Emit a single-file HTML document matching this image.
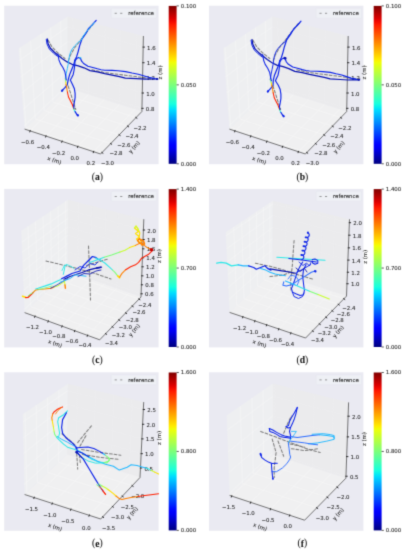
<!DOCTYPE html>
<html><head><meta charset="utf-8"><style>
html,body{margin:0;padding:0;background:#fff;}
svg{display:block;}
text{font-family:'DejaVu Sans','Liberation Sans',sans-serif;stroke:#222;stroke-width:0.07px;}
</style></head><body><div id="w">
<svg width="407" height="550" viewBox="0 0 407 550">
<defs><filter id="bl" filterUnits="userSpaceOnUse" x="0" y="0" width="407" height="550" color-interpolation-filters="sRGB"><feConvolveMatrix order="3" kernelMatrix="0.01917 0.10012 0.01917 0.10012 0.52283 0.10012 0.01917 0.10012 0.01917" divisor="1" edgeMode="duplicate" preserveAlpha="true"/></filter><linearGradient id="jet" x1="0" y1="0" x2="0" y2="1"><stop offset="0.000" stop-color="#800000"/><stop offset="0.020" stop-color="#970000"/><stop offset="0.040" stop-color="#ae0000"/><stop offset="0.060" stop-color="#c50000"/><stop offset="0.080" stop-color="#dc0000"/><stop offset="0.100" stop-color="#f30900"/><stop offset="0.120" stop-color="#ff1c00"/><stop offset="0.140" stop-color="#ff2f00"/><stop offset="0.160" stop-color="#ff4200"/><stop offset="0.180" stop-color="#ff5500"/><stop offset="0.200" stop-color="#ff6800"/><stop offset="0.220" stop-color="#ff7b00"/><stop offset="0.240" stop-color="#ff8e00"/><stop offset="0.260" stop-color="#ffa100"/><stop offset="0.280" stop-color="#ffb300"/><stop offset="0.300" stop-color="#ffc600"/><stop offset="0.320" stop-color="#ffd900"/><stop offset="0.340" stop-color="#ffec00"/><stop offset="0.360" stop-color="#efff08"/><stop offset="0.380" stop-color="#deff19"/><stop offset="0.400" stop-color="#ceff29"/><stop offset="0.420" stop-color="#bdff3a"/><stop offset="0.440" stop-color="#adff4a"/><stop offset="0.460" stop-color="#9cff5a"/><stop offset="0.480" stop-color="#8cff6b"/><stop offset="0.500" stop-color="#7bff7b"/><stop offset="0.520" stop-color="#6bff8c"/><stop offset="0.540" stop-color="#5aff9c"/><stop offset="0.560" stop-color="#4affad"/><stop offset="0.580" stop-color="#3affbd"/><stop offset="0.600" stop-color="#29ffce"/><stop offset="0.620" stop-color="#19ffde"/><stop offset="0.640" stop-color="#08f0ef"/><stop offset="0.660" stop-color="#00dbff"/><stop offset="0.680" stop-color="#00c7ff"/><stop offset="0.700" stop-color="#00b2ff"/><stop offset="0.720" stop-color="#009eff"/><stop offset="0.740" stop-color="#008aff"/><stop offset="0.760" stop-color="#0075ff"/><stop offset="0.780" stop-color="#0061ff"/><stop offset="0.800" stop-color="#004cff"/><stop offset="0.820" stop-color="#0038ff"/><stop offset="0.840" stop-color="#0024ff"/><stop offset="0.860" stop-color="#000fff"/><stop offset="0.880" stop-color="#0000ff"/><stop offset="0.900" stop-color="#0000f3"/><stop offset="0.920" stop-color="#0000dc"/><stop offset="0.940" stop-color="#0000c5"/><stop offset="0.960" stop-color="#0000ae"/><stop offset="0.980" stop-color="#000097"/><stop offset="1.000" stop-color="#000080"/></linearGradient></defs>
<g filter="url(#bl)"><rect x="0" y="0" width="407" height="550" fill="#fff"/>
<rect x="4.20" y="5.70" width="154.40" height="158.50" fill="#eaeaf2"/>
<rect x="209.00" y="5.70" width="154.40" height="158.50" fill="#eaeaf2"/>
<rect x="4.20" y="188.90" width="154.40" height="158.50" fill="#eaeaf2"/>
<rect x="209.00" y="188.90" width="154.40" height="158.50" fill="#eaeaf2"/>
<rect x="4.20" y="372.30" width="154.40" height="158.50" fill="#eaeaf2"/>
<rect x="209.00" y="372.30" width="154.40" height="158.50" fill="#eaeaf2"/>
<polygon points="18.50,48.50 67.60,16.50 67.80,88.00 24.60,129.10" fill="#eeeff1" />
<polygon points="67.60,16.50 143.40,36.00 141.90,111.50 67.80,88.00" fill="#ebebed" />
<polygon points="24.60,129.10 67.80,88.00 141.90,111.50 100.60,154.00" fill="#f0f0f1" />
<line x1="26.07" y1="127.70" x2="20.17" y2="47.41" stroke="#f9f9f9" stroke-width="0.45" />
<line x1="26.07" y1="127.70" x2="102.00" y2="152.56" stroke="#f9f9f9" stroke-width="0.45" />
<line x1="35.18" y1="119.03" x2="30.53" y2="40.66" stroke="#f9f9f9" stroke-width="0.45" />
<line x1="35.18" y1="119.03" x2="110.72" y2="143.59" stroke="#f9f9f9" stroke-width="0.45" />
<line x1="44.08" y1="110.56" x2="40.64" y2="34.07" stroke="#f9f9f9" stroke-width="0.45" />
<line x1="44.08" y1="110.56" x2="119.23" y2="134.83" stroke="#f9f9f9" stroke-width="0.45" />
<line x1="52.90" y1="102.18" x2="50.66" y2="27.54" stroke="#f9f9f9" stroke-width="0.45" />
<line x1="52.90" y1="102.18" x2="127.65" y2="126.16" stroke="#f9f9f9" stroke-width="0.45" />
<line x1="61.62" y1="93.88" x2="60.58" y2="21.08" stroke="#f9f9f9" stroke-width="0.45" />
<line x1="61.62" y1="93.88" x2="135.99" y2="117.58" stroke="#f9f9f9" stroke-width="0.45" />
<line x1="24.34" y1="125.71" x2="67.79" y2="85.00" stroke="#f9f9f9" stroke-width="0.45" />
<line x1="67.79" y1="85.00" x2="141.96" y2="108.33" stroke="#eeeef0" stroke-width="0.45" />
<line x1="23.11" y1="109.35" x2="67.75" y2="70.48" stroke="#f9f9f9" stroke-width="0.45" />
<line x1="67.75" y1="70.48" x2="142.27" y2="93.00" stroke="#eeeef0" stroke-width="0.45" />
<line x1="21.87" y1="92.99" x2="67.71" y2="55.97" stroke="#f9f9f9" stroke-width="0.45" />
<line x1="67.71" y1="55.97" x2="142.57" y2="77.68" stroke="#eeeef0" stroke-width="0.45" />
<line x1="20.66" y1="77.03" x2="67.67" y2="41.81" stroke="#f9f9f9" stroke-width="0.45" />
<line x1="67.67" y1="41.81" x2="142.87" y2="62.73" stroke="#eeeef0" stroke-width="0.45" />
<line x1="19.40" y1="60.35" x2="67.63" y2="27.01" stroke="#f9f9f9" stroke-width="0.45" />
<line x1="67.63" y1="27.01" x2="143.18" y2="47.10" stroke="#eeeef0" stroke-width="0.45" />
<line x1="73.14" y1="89.69" x2="73.06" y2="17.90" stroke="#eeeef0" stroke-width="0.45" />
<line x1="30.07" y1="130.89" x2="73.14" y2="89.69" stroke="#f9f9f9" stroke-width="0.45" />
<line x1="88.55" y1="94.58" x2="88.82" y2="21.96" stroke="#eeeef0" stroke-width="0.45" />
<line x1="45.88" y1="136.07" x2="88.55" y2="94.58" stroke="#f9f9f9" stroke-width="0.45" />
<line x1="104.26" y1="99.56" x2="104.89" y2="26.09" stroke="#eeeef0" stroke-width="0.45" />
<line x1="61.99" y1="141.35" x2="104.26" y2="99.56" stroke="#f9f9f9" stroke-width="0.45" />
<line x1="119.60" y1="104.43" x2="120.58" y2="30.13" stroke="#eeeef0" stroke-width="0.45" />
<line x1="77.72" y1="146.51" x2="119.60" y2="104.43" stroke="#f9f9f9" stroke-width="0.45" />
<line x1="135.01" y1="109.31" x2="136.35" y2="34.19" stroke="#eeeef0" stroke-width="0.45" />
<line x1="93.53" y1="151.68" x2="135.01" y2="109.31" stroke="#f9f9f9" stroke-width="0.45" />
<line x1="24.60" y1="129.10" x2="100.60" y2="154.00" stroke="#3c3c3c" stroke-width="0.70" />
<line x1="100.60" y1="154.00" x2="141.90" y2="111.50" stroke="#3c3c3c" stroke-width="0.70" />
<line x1="141.90" y1="111.50" x2="143.40" y2="36.00" stroke="#3c3c3c" stroke-width="0.70" />
<line x1="30.37" y1="130.09" x2="29.67" y2="132.29" stroke="#222" stroke-width="0.95" />
<text x="27.60" y="141.90" font-size="5.40" fill="#222222" text-anchor="middle" dominant-baseline="central" >−0.6</text>
<line x1="46.18" y1="135.27" x2="45.48" y2="137.47" stroke="#222" stroke-width="0.95" />
<text x="43.30" y="147.40" font-size="5.40" fill="#222222" text-anchor="middle" dominant-baseline="central" >−0.4</text>
<line x1="62.29" y1="140.55" x2="61.59" y2="142.75" stroke="#222" stroke-width="0.95" />
<text x="58.60" y="152.70" font-size="5.40" fill="#222222" text-anchor="middle" dominant-baseline="central" >−0.2</text>
<line x1="78.02" y1="145.71" x2="77.32" y2="147.91" stroke="#222" stroke-width="0.95" />
<text x="74.70" y="158.00" font-size="5.40" fill="#222222" text-anchor="middle" dominant-baseline="central" >0.0</text>
<line x1="93.83" y1="150.88" x2="93.13" y2="153.08" stroke="#222" stroke-width="0.95" />
<text x="90.80" y="162.90" font-size="5.40" fill="#222222" text-anchor="middle" dominant-baseline="central" >0.2</text>
<line x1="101.40" y1="152.16" x2="103.30" y2="153.46" stroke="#222" stroke-width="0.95" />
<text x="107.50" y="162.50" font-size="5.40" fill="#222222" text-anchor="middle" dominant-baseline="central" >−3.0</text>
<line x1="110.12" y1="143.19" x2="112.02" y2="144.49" stroke="#222" stroke-width="0.95" />
<text x="116.00" y="153.30" font-size="5.40" fill="#222222" text-anchor="middle" dominant-baseline="central" >−2.8</text>
<line x1="118.63" y1="134.43" x2="120.53" y2="135.73" stroke="#222" stroke-width="0.95" />
<text x="123.90" y="144.80" font-size="5.40" fill="#222222" text-anchor="middle" dominant-baseline="central" >−2.6</text>
<line x1="127.05" y1="125.76" x2="128.95" y2="127.06" stroke="#222" stroke-width="0.95" />
<text x="132.00" y="136.20" font-size="5.40" fill="#222222" text-anchor="middle" dominant-baseline="central" >−2.4</text>
<line x1="135.39" y1="117.18" x2="137.29" y2="118.48" stroke="#222" stroke-width="0.95" />
<text x="140.00" y="127.50" font-size="5.40" fill="#222222" text-anchor="middle" dominant-baseline="central" >−2.2</text>
<line x1="141.36" y1="108.33" x2="143.66" y2="108.33" stroke="#222" stroke-width="0.95" />
<text x="150.16" y="108.83" font-size="5.40" fill="#222222" text-anchor="middle" dominant-baseline="central" >0.8</text>
<line x1="141.67" y1="93.00" x2="143.97" y2="93.00" stroke="#222" stroke-width="0.95" />
<text x="150.47" y="93.50" font-size="5.40" fill="#222222" text-anchor="middle" dominant-baseline="central" >1.0</text>
<line x1="141.97" y1="77.68" x2="144.27" y2="77.68" stroke="#222" stroke-width="0.95" />
<text x="150.77" y="78.18" font-size="5.40" fill="#222222" text-anchor="middle" dominant-baseline="central" >1.2</text>
<line x1="142.27" y1="62.73" x2="144.57" y2="62.73" stroke="#222" stroke-width="0.95" />
<text x="151.07" y="63.23" font-size="5.40" fill="#222222" text-anchor="middle" dominant-baseline="central" >1.4</text>
<line x1="142.58" y1="47.10" x2="144.88" y2="47.10" stroke="#222" stroke-width="0.95" />
<text x="151.38" y="47.60" font-size="5.40" fill="#222222" text-anchor="middle" dominant-baseline="central" >1.6</text>
<text x="54.50" y="160.20" font-size="5.40" fill="#222222" text-anchor="middle" dominant-baseline="central" transform="rotate(19.0 54.50 160.20)" >x (m)</text>
<text x="134.00" y="147.00" font-size="5.40" fill="#222222" text-anchor="middle" dominant-baseline="central" transform="rotate(-50.0 134.00 147.00)" >y (m)</text>
<text x="159.50" y="72.50" font-size="5.40" fill="#222222" text-anchor="middle" dominant-baseline="central" transform="rotate(-90.0 159.50 72.50)" >z (m)</text>
<rect x="111.40" y="8.20" width="45.30" height="9.80" rx="0.8" fill="#eef0f5" stroke="#e4e6ee" stroke-width="0.4"/>
<line x1="114.70" y1="13.30" x2="122.40" y2="13.30" stroke="#555" stroke-width="0.60" stroke-dasharray="2.1,3.4"/>
<text x="128.20" y="13.20" font-size="5.40" fill="#222222" text-anchor="start" dominant-baseline="central" >reference</text>
<polygon points="223.30,48.50 272.40,16.50 272.60,88.00 229.40,129.10" fill="#eeeff1" />
<polygon points="272.40,16.50 348.20,36.00 346.70,111.50 272.60,88.00" fill="#ebebed" />
<polygon points="229.40,129.10 272.60,88.00 346.70,111.50 305.40,154.00" fill="#f0f0f1" />
<line x1="230.87" y1="127.70" x2="224.97" y2="47.41" stroke="#f9f9f9" stroke-width="0.45" />
<line x1="230.87" y1="127.70" x2="306.80" y2="152.56" stroke="#f9f9f9" stroke-width="0.45" />
<line x1="239.98" y1="119.03" x2="235.33" y2="40.66" stroke="#f9f9f9" stroke-width="0.45" />
<line x1="239.98" y1="119.03" x2="315.52" y2="143.59" stroke="#f9f9f9" stroke-width="0.45" />
<line x1="248.88" y1="110.56" x2="245.44" y2="34.07" stroke="#f9f9f9" stroke-width="0.45" />
<line x1="248.88" y1="110.56" x2="324.03" y2="134.83" stroke="#f9f9f9" stroke-width="0.45" />
<line x1="257.70" y1="102.18" x2="255.46" y2="27.54" stroke="#f9f9f9" stroke-width="0.45" />
<line x1="257.70" y1="102.18" x2="332.45" y2="126.16" stroke="#f9f9f9" stroke-width="0.45" />
<line x1="266.42" y1="93.88" x2="265.38" y2="21.08" stroke="#f9f9f9" stroke-width="0.45" />
<line x1="266.42" y1="93.88" x2="340.79" y2="117.58" stroke="#f9f9f9" stroke-width="0.45" />
<line x1="229.14" y1="125.71" x2="272.59" y2="85.00" stroke="#f9f9f9" stroke-width="0.45" />
<line x1="272.59" y1="85.00" x2="346.76" y2="108.33" stroke="#eeeef0" stroke-width="0.45" />
<line x1="227.91" y1="109.35" x2="272.55" y2="70.48" stroke="#f9f9f9" stroke-width="0.45" />
<line x1="272.55" y1="70.48" x2="347.07" y2="93.00" stroke="#eeeef0" stroke-width="0.45" />
<line x1="226.67" y1="92.99" x2="272.51" y2="55.97" stroke="#f9f9f9" stroke-width="0.45" />
<line x1="272.51" y1="55.97" x2="347.37" y2="77.68" stroke="#eeeef0" stroke-width="0.45" />
<line x1="225.46" y1="77.03" x2="272.47" y2="41.81" stroke="#f9f9f9" stroke-width="0.45" />
<line x1="272.47" y1="41.81" x2="347.67" y2="62.73" stroke="#eeeef0" stroke-width="0.45" />
<line x1="224.20" y1="60.35" x2="272.43" y2="27.01" stroke="#f9f9f9" stroke-width="0.45" />
<line x1="272.43" y1="27.01" x2="347.98" y2="47.10" stroke="#eeeef0" stroke-width="0.45" />
<line x1="277.94" y1="89.69" x2="277.86" y2="17.90" stroke="#eeeef0" stroke-width="0.45" />
<line x1="234.87" y1="130.89" x2="277.94" y2="89.69" stroke="#f9f9f9" stroke-width="0.45" />
<line x1="293.35" y1="94.58" x2="293.62" y2="21.96" stroke="#eeeef0" stroke-width="0.45" />
<line x1="250.68" y1="136.07" x2="293.35" y2="94.58" stroke="#f9f9f9" stroke-width="0.45" />
<line x1="309.06" y1="99.56" x2="309.69" y2="26.09" stroke="#eeeef0" stroke-width="0.45" />
<line x1="266.79" y1="141.35" x2="309.06" y2="99.56" stroke="#f9f9f9" stroke-width="0.45" />
<line x1="324.40" y1="104.43" x2="325.38" y2="30.13" stroke="#eeeef0" stroke-width="0.45" />
<line x1="282.52" y1="146.51" x2="324.40" y2="104.43" stroke="#f9f9f9" stroke-width="0.45" />
<line x1="339.81" y1="109.31" x2="341.15" y2="34.19" stroke="#eeeef0" stroke-width="0.45" />
<line x1="298.33" y1="151.68" x2="339.81" y2="109.31" stroke="#f9f9f9" stroke-width="0.45" />
<line x1="229.40" y1="129.10" x2="305.40" y2="154.00" stroke="#3c3c3c" stroke-width="0.70" />
<line x1="305.40" y1="154.00" x2="346.70" y2="111.50" stroke="#3c3c3c" stroke-width="0.70" />
<line x1="346.70" y1="111.50" x2="348.20" y2="36.00" stroke="#3c3c3c" stroke-width="0.70" />
<line x1="235.17" y1="130.09" x2="234.47" y2="132.29" stroke="#222" stroke-width="0.95" />
<text x="232.40" y="141.90" font-size="5.40" fill="#222222" text-anchor="middle" dominant-baseline="central" >−0.6</text>
<line x1="250.98" y1="135.27" x2="250.28" y2="137.47" stroke="#222" stroke-width="0.95" />
<text x="248.10" y="147.40" font-size="5.40" fill="#222222" text-anchor="middle" dominant-baseline="central" >−0.4</text>
<line x1="267.09" y1="140.55" x2="266.39" y2="142.75" stroke="#222" stroke-width="0.95" />
<text x="263.40" y="152.70" font-size="5.40" fill="#222222" text-anchor="middle" dominant-baseline="central" >−0.2</text>
<line x1="282.82" y1="145.71" x2="282.12" y2="147.91" stroke="#222" stroke-width="0.95" />
<text x="279.50" y="158.00" font-size="5.40" fill="#222222" text-anchor="middle" dominant-baseline="central" >0.0</text>
<line x1="298.63" y1="150.88" x2="297.93" y2="153.08" stroke="#222" stroke-width="0.95" />
<text x="295.60" y="162.90" font-size="5.40" fill="#222222" text-anchor="middle" dominant-baseline="central" >0.2</text>
<line x1="306.20" y1="152.16" x2="308.10" y2="153.46" stroke="#222" stroke-width="0.95" />
<text x="312.30" y="162.50" font-size="5.40" fill="#222222" text-anchor="middle" dominant-baseline="central" >−3.0</text>
<line x1="314.92" y1="143.19" x2="316.82" y2="144.49" stroke="#222" stroke-width="0.95" />
<text x="320.80" y="153.30" font-size="5.40" fill="#222222" text-anchor="middle" dominant-baseline="central" >−2.8</text>
<line x1="323.43" y1="134.43" x2="325.33" y2="135.73" stroke="#222" stroke-width="0.95" />
<text x="328.70" y="144.80" font-size="5.40" fill="#222222" text-anchor="middle" dominant-baseline="central" >−2.6</text>
<line x1="331.85" y1="125.76" x2="333.75" y2="127.06" stroke="#222" stroke-width="0.95" />
<text x="336.80" y="136.20" font-size="5.40" fill="#222222" text-anchor="middle" dominant-baseline="central" >−2.4</text>
<line x1="340.19" y1="117.18" x2="342.09" y2="118.48" stroke="#222" stroke-width="0.95" />
<text x="344.80" y="127.50" font-size="5.40" fill="#222222" text-anchor="middle" dominant-baseline="central" >−2.2</text>
<line x1="346.16" y1="108.33" x2="348.46" y2="108.33" stroke="#222" stroke-width="0.95" />
<text x="354.96" y="108.83" font-size="5.40" fill="#222222" text-anchor="middle" dominant-baseline="central" >0.8</text>
<line x1="346.47" y1="93.00" x2="348.77" y2="93.00" stroke="#222" stroke-width="0.95" />
<text x="355.27" y="93.50" font-size="5.40" fill="#222222" text-anchor="middle" dominant-baseline="central" >1.0</text>
<line x1="346.77" y1="77.68" x2="349.07" y2="77.68" stroke="#222" stroke-width="0.95" />
<text x="355.57" y="78.18" font-size="5.40" fill="#222222" text-anchor="middle" dominant-baseline="central" >1.2</text>
<line x1="347.07" y1="62.73" x2="349.37" y2="62.73" stroke="#222" stroke-width="0.95" />
<text x="355.87" y="63.23" font-size="5.40" fill="#222222" text-anchor="middle" dominant-baseline="central" >1.4</text>
<line x1="347.38" y1="47.10" x2="349.68" y2="47.10" stroke="#222" stroke-width="0.95" />
<text x="356.18" y="47.60" font-size="5.40" fill="#222222" text-anchor="middle" dominant-baseline="central" >1.6</text>
<text x="259.30" y="160.20" font-size="5.40" fill="#222222" text-anchor="middle" dominant-baseline="central" transform="rotate(19.0 259.30 160.20)" >x (m)</text>
<text x="338.80" y="147.00" font-size="5.40" fill="#222222" text-anchor="middle" dominant-baseline="central" transform="rotate(-50.0 338.80 147.00)" >y (m)</text>
<text x="364.30" y="72.50" font-size="5.40" fill="#222222" text-anchor="middle" dominant-baseline="central" transform="rotate(-90.0 364.30 72.50)" >z (m)</text>
<rect x="316.20" y="8.20" width="45.30" height="9.80" rx="0.8" fill="#eef0f5" stroke="#e4e6ee" stroke-width="0.4"/>
<line x1="319.50" y1="13.30" x2="327.20" y2="13.30" stroke="#555" stroke-width="0.60" stroke-dasharray="2.1,3.4"/>
<text x="333.00" y="13.20" font-size="5.40" fill="#222222" text-anchor="start" dominant-baseline="central" >reference</text>
<polygon points="21.30,230.80 67.90,199.80 67.80,271.20 24.60,312.60" fill="#eeeff1" />
<polygon points="67.90,199.80 143.80,219.20 141.00,297.00 67.80,271.20" fill="#ebebed" />
<polygon points="24.60,312.60 67.80,271.20 141.00,297.00 99.70,339.80" fill="#f0f0f1" />
<line x1="30.78" y1="306.68" x2="27.96" y2="226.37" stroke="#f9f9f9" stroke-width="0.45" />
<line x1="30.78" y1="306.68" x2="105.61" y2="333.68" stroke="#f9f9f9" stroke-width="0.45" />
<line x1="37.78" y1="299.97" x2="35.51" y2="221.34" stroke="#f9f9f9" stroke-width="0.45" />
<line x1="37.78" y1="299.97" x2="112.30" y2="326.75" stroke="#f9f9f9" stroke-width="0.45" />
<line x1="44.73" y1="293.31" x2="43.02" y2="216.35" stroke="#f9f9f9" stroke-width="0.45" />
<line x1="44.73" y1="293.31" x2="118.95" y2="319.86" stroke="#f9f9f9" stroke-width="0.45" />
<line x1="51.73" y1="286.60" x2="50.56" y2="211.33" stroke="#f9f9f9" stroke-width="0.45" />
<line x1="51.73" y1="286.60" x2="125.64" y2="312.92" stroke="#f9f9f9" stroke-width="0.45" />
<line x1="58.68" y1="279.94" x2="58.07" y2="206.34" stroke="#f9f9f9" stroke-width="0.45" />
<line x1="58.68" y1="279.94" x2="132.29" y2="306.03" stroke="#f9f9f9" stroke-width="0.45" />
<line x1="65.68" y1="273.23" x2="65.62" y2="201.32" stroke="#f9f9f9" stroke-width="0.45" />
<line x1="65.68" y1="273.23" x2="138.98" y2="299.10" stroke="#f9f9f9" stroke-width="0.45" />
<line x1="24.46" y1="309.25" x2="67.80" y2="268.27" stroke="#f9f9f9" stroke-width="0.45" />
<line x1="67.80" y1="268.27" x2="141.11" y2="293.81" stroke="#eeeef0" stroke-width="0.45" />
<line x1="24.08" y1="299.76" x2="67.82" y2="259.99" stroke="#f9f9f9" stroke-width="0.45" />
<line x1="67.82" y1="259.99" x2="141.44" y2="284.79" stroke="#eeeef0" stroke-width="0.45" />
<line x1="23.70" y1="290.35" x2="67.83" y2="251.78" stroke="#f9f9f9" stroke-width="0.45" />
<line x1="67.83" y1="251.78" x2="141.76" y2="275.84" stroke="#eeeef0" stroke-width="0.45" />
<line x1="23.32" y1="280.86" x2="67.84" y2="243.50" stroke="#f9f9f9" stroke-width="0.45" />
<line x1="67.84" y1="243.50" x2="142.09" y2="266.81" stroke="#eeeef0" stroke-width="0.45" />
<line x1="22.94" y1="271.37" x2="67.85" y2="235.21" stroke="#f9f9f9" stroke-width="0.45" />
<line x1="67.85" y1="235.21" x2="142.41" y2="257.79" stroke="#eeeef0" stroke-width="0.45" />
<line x1="22.56" y1="261.97" x2="67.86" y2="227.00" stroke="#f9f9f9" stroke-width="0.45" />
<line x1="67.86" y1="227.00" x2="142.73" y2="248.84" stroke="#eeeef0" stroke-width="0.45" />
<line x1="22.16" y1="252.15" x2="67.87" y2="218.44" stroke="#f9f9f9" stroke-width="0.45" />
<line x1="67.87" y1="218.44" x2="143.07" y2="239.51" stroke="#eeeef0" stroke-width="0.45" />
<line x1="21.76" y1="242.17" x2="67.89" y2="209.72" stroke="#f9f9f9" stroke-width="0.45" />
<line x1="67.89" y1="209.72" x2="143.41" y2="230.01" stroke="#eeeef0" stroke-width="0.45" />
<line x1="77.83" y1="274.73" x2="78.30" y2="202.46" stroke="#eeeef0" stroke-width="0.45" />
<line x1="34.89" y1="316.33" x2="77.83" y2="274.73" stroke="#f9f9f9" stroke-width="0.45" />
<line x1="90.78" y1="279.30" x2="91.73" y2="205.89" stroke="#eeeef0" stroke-width="0.45" />
<line x1="48.18" y1="321.14" x2="90.78" y2="279.30" stroke="#f9f9f9" stroke-width="0.45" />
<line x1="104.25" y1="284.05" x2="105.70" y2="209.46" stroke="#eeeef0" stroke-width="0.45" />
<line x1="62.00" y1="326.15" x2="104.25" y2="284.05" stroke="#f9f9f9" stroke-width="0.45" />
<line x1="116.62" y1="288.41" x2="118.53" y2="212.74" stroke="#eeeef0" stroke-width="0.45" />
<line x1="74.69" y1="330.74" x2="116.62" y2="288.41" stroke="#f9f9f9" stroke-width="0.45" />
<line x1="129.07" y1="292.79" x2="131.43" y2="216.04" stroke="#eeeef0" stroke-width="0.45" />
<line x1="87.46" y1="335.37" x2="129.07" y2="292.79" stroke="#f9f9f9" stroke-width="0.45" />
<line x1="24.60" y1="312.60" x2="99.70" y2="339.80" stroke="#3c3c3c" stroke-width="0.70" />
<line x1="99.70" y1="339.80" x2="141.00" y2="297.00" stroke="#3c3c3c" stroke-width="0.70" />
<line x1="141.00" y1="297.00" x2="143.80" y2="219.20" stroke="#3c3c3c" stroke-width="0.70" />
<line x1="35.19" y1="315.53" x2="34.49" y2="317.73" stroke="#222" stroke-width="0.95" />
<text x="32.50" y="326.70" font-size="5.40" fill="#222222" text-anchor="middle" dominant-baseline="central" >−1.2</text>
<line x1="48.48" y1="320.34" x2="47.78" y2="322.54" stroke="#222" stroke-width="0.95" />
<text x="45.50" y="331.50" font-size="5.40" fill="#222222" text-anchor="middle" dominant-baseline="central" >−1.0</text>
<line x1="62.30" y1="325.35" x2="61.60" y2="327.55" stroke="#222" stroke-width="0.95" />
<text x="58.90" y="336.20" font-size="5.40" fill="#222222" text-anchor="middle" dominant-baseline="central" >−0.8</text>
<line x1="74.99" y1="329.94" x2="74.29" y2="332.14" stroke="#222" stroke-width="0.95" />
<text x="71.90" y="340.70" font-size="5.40" fill="#222222" text-anchor="middle" dominant-baseline="central" >−0.6</text>
<line x1="87.76" y1="334.57" x2="87.06" y2="336.77" stroke="#222" stroke-width="0.95" />
<text x="85.00" y="345.30" font-size="5.40" fill="#222222" text-anchor="middle" dominant-baseline="central" >−0.4</text>
<line x1="105.01" y1="333.28" x2="106.91" y2="334.58" stroke="#222" stroke-width="0.95" />
<text x="111.50" y="342.50" font-size="5.40" fill="#222222" text-anchor="middle" dominant-baseline="central" >−3.4</text>
<line x1="111.70" y1="326.35" x2="113.60" y2="327.65" stroke="#222" stroke-width="0.95" />
<text x="118.40" y="334.60" font-size="5.40" fill="#222222" text-anchor="middle" dominant-baseline="central" >−3.2</text>
<line x1="118.35" y1="319.46" x2="120.25" y2="320.76" stroke="#222" stroke-width="0.95" />
<text x="125.30" y="327.20" font-size="5.40" fill="#222222" text-anchor="middle" dominant-baseline="central" >−3.0</text>
<line x1="125.04" y1="312.52" x2="126.94" y2="313.82" stroke="#222" stroke-width="0.95" />
<text x="132.20" y="319.90" font-size="5.40" fill="#222222" text-anchor="middle" dominant-baseline="central" >−2.8</text>
<line x1="131.69" y1="305.63" x2="133.59" y2="306.93" stroke="#222" stroke-width="0.95" />
<text x="139.00" y="312.40" font-size="5.40" fill="#222222" text-anchor="middle" dominant-baseline="central" >−2.6</text>
<line x1="138.38" y1="298.70" x2="140.28" y2="300.00" stroke="#222" stroke-width="0.95" />
<text x="144.90" y="305.10" font-size="5.40" fill="#222222" text-anchor="middle" dominant-baseline="central" >−2.4</text>
<line x1="140.51" y1="293.81" x2="142.81" y2="293.81" stroke="#222" stroke-width="0.95" />
<text x="149.31" y="294.31" font-size="5.40" fill="#222222" text-anchor="middle" dominant-baseline="central" >0.6</text>
<line x1="140.84" y1="284.79" x2="143.14" y2="284.79" stroke="#222" stroke-width="0.95" />
<text x="149.64" y="285.29" font-size="5.40" fill="#222222" text-anchor="middle" dominant-baseline="central" >0.8</text>
<line x1="141.16" y1="275.84" x2="143.46" y2="275.84" stroke="#222" stroke-width="0.95" />
<text x="149.96" y="276.34" font-size="5.40" fill="#222222" text-anchor="middle" dominant-baseline="central" >1.0</text>
<line x1="141.49" y1="266.81" x2="143.79" y2="266.81" stroke="#222" stroke-width="0.95" />
<text x="150.29" y="267.31" font-size="5.40" fill="#222222" text-anchor="middle" dominant-baseline="central" >1.2</text>
<line x1="141.81" y1="257.79" x2="144.11" y2="257.79" stroke="#222" stroke-width="0.95" />
<text x="150.61" y="258.29" font-size="5.40" fill="#222222" text-anchor="middle" dominant-baseline="central" >1.4</text>
<line x1="142.13" y1="248.84" x2="144.43" y2="248.84" stroke="#222" stroke-width="0.95" />
<text x="150.93" y="249.34" font-size="5.40" fill="#222222" text-anchor="middle" dominant-baseline="central" >1.6</text>
<line x1="142.47" y1="239.51" x2="144.77" y2="239.51" stroke="#222" stroke-width="0.95" />
<text x="151.27" y="240.01" font-size="5.40" fill="#222222" text-anchor="middle" dominant-baseline="central" >1.8</text>
<line x1="142.81" y1="230.01" x2="145.11" y2="230.01" stroke="#222" stroke-width="0.95" />
<text x="151.61" y="230.51" font-size="5.40" fill="#222222" text-anchor="middle" dominant-baseline="central" >2.0</text>
<text x="55.10" y="343.40" font-size="5.40" fill="#222222" text-anchor="middle" dominant-baseline="central" transform="rotate(19.0 55.10 343.40)" >x (m)</text>
<text x="134.10" y="330.10" font-size="5.40" fill="#222222" text-anchor="middle" dominant-baseline="central" transform="rotate(-50.0 134.10 330.10)" >y (m)</text>
<text x="159.40" y="256.10" font-size="5.40" fill="#222222" text-anchor="middle" dominant-baseline="central" transform="rotate(-90.0 159.40 256.10)" >z (m)</text>
<rect x="111.40" y="191.40" width="45.30" height="9.80" rx="0.8" fill="#eef0f5" stroke="#e4e6ee" stroke-width="0.4"/>
<line x1="114.70" y1="196.50" x2="122.40" y2="196.50" stroke="#555" stroke-width="0.60" stroke-dasharray="2.1,3.4"/>
<text x="128.20" y="196.40" font-size="5.40" fill="#222222" text-anchor="start" dominant-baseline="central" >reference</text>
<polygon points="225.70,232.20 272.90,200.80 272.40,271.90 229.60,312.40" fill="#eeeff1" />
<polygon points="272.90,200.80 349.50,219.30 346.50,296.10 272.40,271.90" fill="#ebebed" />
<polygon points="229.60,312.40 272.40,271.90 346.50,296.10 305.60,338.00" fill="#f0f0f1" />
<line x1="236.83" y1="305.56" x2="233.68" y2="226.89" stroke="#f9f9f9" stroke-width="0.45" />
<line x1="236.83" y1="305.56" x2="312.51" y2="330.92" stroke="#f9f9f9" stroke-width="0.45" />
<line x1="244.02" y1="298.75" x2="241.61" y2="221.62" stroke="#f9f9f9" stroke-width="0.45" />
<line x1="244.02" y1="298.75" x2="319.38" y2="323.88" stroke="#f9f9f9" stroke-width="0.45" />
<line x1="250.83" y1="292.31" x2="249.11" y2="216.63" stroke="#f9f9f9" stroke-width="0.45" />
<line x1="250.83" y1="292.31" x2="325.89" y2="317.22" stroke="#f9f9f9" stroke-width="0.45" />
<line x1="257.42" y1="286.07" x2="256.38" y2="211.79" stroke="#f9f9f9" stroke-width="0.45" />
<line x1="257.42" y1="286.07" x2="332.19" y2="310.76" stroke="#f9f9f9" stroke-width="0.45" />
<line x1="263.93" y1="279.92" x2="263.55" y2="207.02" stroke="#f9f9f9" stroke-width="0.45" />
<line x1="263.93" y1="279.92" x2="338.40" y2="304.40" stroke="#f9f9f9" stroke-width="0.45" />
<line x1="269.66" y1="274.49" x2="269.88" y2="202.81" stroke="#f9f9f9" stroke-width="0.45" />
<line x1="269.66" y1="274.49" x2="343.88" y2="298.78" stroke="#f9f9f9" stroke-width="0.45" />
<line x1="228.97" y1="299.49" x2="272.48" y2="260.45" stroke="#f9f9f9" stroke-width="0.45" />
<line x1="272.48" y1="260.45" x2="346.98" y2="283.74" stroke="#eeeef0" stroke-width="0.45" />
<line x1="228.39" y1="287.46" x2="272.56" y2="249.79" stroke="#f9f9f9" stroke-width="0.45" />
<line x1="272.56" y1="249.79" x2="347.43" y2="272.22" stroke="#eeeef0" stroke-width="0.45" />
<line x1="227.77" y1="274.79" x2="272.63" y2="238.55" stroke="#f9f9f9" stroke-width="0.45" />
<line x1="272.63" y1="238.55" x2="347.91" y2="260.08" stroke="#eeeef0" stroke-width="0.45" />
<line x1="227.15" y1="262.03" x2="272.71" y2="227.25" stroke="#f9f9f9" stroke-width="0.45" />
<line x1="272.71" y1="227.25" x2="348.38" y2="247.87" stroke="#eeeef0" stroke-width="0.45" />
<line x1="226.51" y1="248.80" x2="272.80" y2="215.52" stroke="#f9f9f9" stroke-width="0.45" />
<line x1="272.80" y1="215.52" x2="348.88" y2="235.20" stroke="#eeeef0" stroke-width="0.45" />
<line x1="225.87" y1="235.73" x2="272.88" y2="203.93" stroke="#f9f9f9" stroke-width="0.45" />
<line x1="272.88" y1="203.93" x2="349.37" y2="222.68" stroke="#eeeef0" stroke-width="0.45" />
<line x1="285.29" y1="276.11" x2="286.23" y2="204.02" stroke="#eeeef0" stroke-width="0.45" />
<line x1="242.82" y1="316.85" x2="285.29" y2="276.11" stroke="#f9f9f9" stroke-width="0.45" />
<line x1="297.00" y1="279.93" x2="298.33" y2="206.94" stroke="#eeeef0" stroke-width="0.45" />
<line x1="254.83" y1="320.90" x2="297.00" y2="279.93" stroke="#f9f9f9" stroke-width="0.45" />
<line x1="308.49" y1="283.69" x2="310.20" y2="209.81" stroke="#eeeef0" stroke-width="0.45" />
<line x1="266.61" y1="324.87" x2="308.49" y2="283.69" stroke="#f9f9f9" stroke-width="0.45" />
<line x1="320.27" y1="287.53" x2="322.38" y2="212.75" stroke="#eeeef0" stroke-width="0.45" />
<line x1="278.70" y1="328.94" x2="320.27" y2="287.53" stroke="#f9f9f9" stroke-width="0.45" />
<line x1="332.05" y1="291.38" x2="334.56" y2="215.69" stroke="#eeeef0" stroke-width="0.45" />
<line x1="290.78" y1="333.01" x2="332.05" y2="291.38" stroke="#f9f9f9" stroke-width="0.45" />
<line x1="229.60" y1="312.40" x2="305.60" y2="338.00" stroke="#3c3c3c" stroke-width="0.70" />
<line x1="305.60" y1="338.00" x2="346.50" y2="296.10" stroke="#3c3c3c" stroke-width="0.70" />
<line x1="346.50" y1="296.10" x2="349.50" y2="219.30" stroke="#3c3c3c" stroke-width="0.70" />
<line x1="243.12" y1="316.05" x2="242.42" y2="318.25" stroke="#222" stroke-width="0.95" />
<text x="239.62" y="327.65" font-size="5.40" fill="#222222" text-anchor="middle" dominant-baseline="central" >−1.2</text>
<line x1="255.13" y1="320.10" x2="254.43" y2="322.30" stroke="#222" stroke-width="0.95" />
<text x="251.63" y="331.70" font-size="5.40" fill="#222222" text-anchor="middle" dominant-baseline="central" >−1.0</text>
<line x1="266.91" y1="324.07" x2="266.21" y2="326.27" stroke="#222" stroke-width="0.95" />
<text x="263.41" y="335.67" font-size="5.40" fill="#222222" text-anchor="middle" dominant-baseline="central" >−0.8</text>
<line x1="279.00" y1="328.14" x2="278.30" y2="330.34" stroke="#222" stroke-width="0.95" />
<text x="275.50" y="339.74" font-size="5.40" fill="#222222" text-anchor="middle" dominant-baseline="central" >−0.6</text>
<line x1="291.08" y1="332.21" x2="290.38" y2="334.41" stroke="#222" stroke-width="0.95" />
<text x="287.58" y="343.81" font-size="5.40" fill="#222222" text-anchor="middle" dominant-baseline="central" >−0.4</text>
<line x1="311.91" y1="330.52" x2="313.81" y2="331.82" stroke="#222" stroke-width="0.95" />
<text x="317.51" y="340.32" font-size="5.40" fill="#222222" text-anchor="middle" dominant-baseline="central" >−3.4</text>
<line x1="318.78" y1="323.48" x2="320.68" y2="324.78" stroke="#222" stroke-width="0.95" />
<text x="324.38" y="333.28" font-size="5.40" fill="#222222" text-anchor="middle" dominant-baseline="central" >−3.2</text>
<line x1="325.29" y1="316.82" x2="327.19" y2="318.12" stroke="#222" stroke-width="0.95" />
<text x="330.89" y="326.62" font-size="5.40" fill="#222222" text-anchor="middle" dominant-baseline="central" >−3.0</text>
<line x1="331.58" y1="310.37" x2="333.49" y2="311.66" stroke="#222" stroke-width="0.95" />
<text x="337.19" y="320.16" font-size="5.40" fill="#222222" text-anchor="middle" dominant-baseline="central" >−2.8</text>
<line x1="337.80" y1="304.00" x2="339.70" y2="305.30" stroke="#222" stroke-width="0.95" />
<text x="343.40" y="313.80" font-size="5.40" fill="#222222" text-anchor="middle" dominant-baseline="central" >−2.6</text>
<line x1="343.28" y1="298.38" x2="345.18" y2="299.68" stroke="#222" stroke-width="0.95" />
<text x="348.88" y="308.18" font-size="5.40" fill="#222222" text-anchor="middle" dominant-baseline="central" >−2.4</text>
<line x1="346.38" y1="283.74" x2="348.68" y2="283.74" stroke="#222" stroke-width="0.95" />
<text x="355.18" y="284.24" font-size="5.40" fill="#222222" text-anchor="middle" dominant-baseline="central" >1.0</text>
<line x1="346.83" y1="272.22" x2="349.13" y2="272.22" stroke="#222" stroke-width="0.95" />
<text x="355.63" y="272.72" font-size="5.40" fill="#222222" text-anchor="middle" dominant-baseline="central" >1.2</text>
<line x1="347.31" y1="260.08" x2="349.61" y2="260.08" stroke="#222" stroke-width="0.95" />
<text x="356.11" y="260.58" font-size="5.40" fill="#222222" text-anchor="middle" dominant-baseline="central" >1.4</text>
<line x1="347.78" y1="247.87" x2="350.08" y2="247.87" stroke="#222" stroke-width="0.95" />
<text x="356.58" y="248.37" font-size="5.40" fill="#222222" text-anchor="middle" dominant-baseline="central" >1.6</text>
<line x1="348.28" y1="235.20" x2="350.58" y2="235.20" stroke="#222" stroke-width="0.95" />
<text x="357.08" y="235.70" font-size="5.40" fill="#222222" text-anchor="middle" dominant-baseline="central" >1.8</text>
<line x1="348.77" y1="222.68" x2="351.07" y2="222.68" stroke="#222" stroke-width="0.95" />
<text x="357.57" y="223.18" font-size="5.40" fill="#222222" text-anchor="middle" dominant-baseline="central" >2.0</text>
<text x="259.70" y="343.50" font-size="5.40" fill="#222222" text-anchor="middle" dominant-baseline="central" transform="rotate(19.0 259.70 343.50)" >x (m)</text>
<text x="338.00" y="331.50" font-size="5.40" fill="#222222" text-anchor="middle" dominant-baseline="central" transform="rotate(-50.0 338.00 331.50)" >y (m)</text>
<text x="365.10" y="256.80" font-size="5.40" fill="#222222" text-anchor="middle" dominant-baseline="central" transform="rotate(-90.0 365.10 256.80)" >z (m)</text>
<rect x="316.20" y="191.40" width="45.30" height="9.80" rx="0.8" fill="#eef0f5" stroke="#e4e6ee" stroke-width="0.4"/>
<line x1="319.50" y1="196.50" x2="327.20" y2="196.50" stroke="#555" stroke-width="0.60" stroke-dasharray="2.1,3.4"/>
<text x="333.00" y="196.40" font-size="5.40" fill="#222222" text-anchor="start" dominant-baseline="central" >reference</text>
<polygon points="22.70,414.20 67.90,383.80 67.00,454.40 24.60,494.50" fill="#eeeff1" />
<polygon points="67.90,383.80 143.70,402.10 140.00,477.50 67.00,454.40" fill="#ebebed" />
<polygon points="24.60,494.50 67.00,454.40 140.00,477.50 100.70,519.00" fill="#f0f0f1" />
<line x1="26.76" y1="492.45" x2="25.01" y2="412.65" stroke="#f9f9f9" stroke-width="0.45" />
<line x1="26.76" y1="492.45" x2="102.70" y2="516.88" stroke="#f9f9f9" stroke-width="0.45" />
<line x1="37.32" y1="482.47" x2="36.26" y2="405.08" stroke="#f9f9f9" stroke-width="0.45" />
<line x1="37.32" y1="482.47" x2="112.49" y2="506.55" stroke="#f9f9f9" stroke-width="0.45" />
<line x1="47.92" y1="472.44" x2="47.56" y2="397.48" stroke="#f9f9f9" stroke-width="0.45" />
<line x1="47.92" y1="472.44" x2="122.31" y2="496.18" stroke="#f9f9f9" stroke-width="0.45" />
<line x1="58.60" y1="462.34" x2="58.95" y2="389.82" stroke="#f9f9f9" stroke-width="0.45" />
<line x1="58.60" y1="462.34" x2="132.22" y2="485.72" stroke="#f9f9f9" stroke-width="0.45" />
<line x1="24.36" y1="484.38" x2="67.11" y2="445.50" stroke="#f9f9f9" stroke-width="0.45" />
<line x1="67.11" y1="445.50" x2="140.47" y2="468.00" stroke="#eeeef0" stroke-width="0.45" />
<line x1="24.00" y1="469.13" x2="67.28" y2="432.09" stroke="#f9f9f9" stroke-width="0.45" />
<line x1="67.28" y1="432.09" x2="141.17" y2="453.67" stroke="#eeeef0" stroke-width="0.45" />
<line x1="23.63" y1="453.39" x2="67.46" y2="418.25" stroke="#f9f9f9" stroke-width="0.45" />
<line x1="67.46" y1="418.25" x2="141.89" y2="438.90" stroke="#eeeef0" stroke-width="0.45" />
<line x1="23.26" y1="437.81" x2="67.64" y2="404.56" stroke="#f9f9f9" stroke-width="0.45" />
<line x1="67.64" y1="404.56" x2="142.61" y2="424.27" stroke="#eeeef0" stroke-width="0.45" />
<line x1="22.89" y1="422.07" x2="67.81" y2="390.72" stroke="#f9f9f9" stroke-width="0.45" />
<line x1="67.81" y1="390.72" x2="143.34" y2="409.49" stroke="#eeeef0" stroke-width="0.45" />
<line x1="76.12" y1="457.29" x2="77.38" y2="386.09" stroke="#eeeef0" stroke-width="0.45" />
<line x1="34.11" y1="497.56" x2="76.12" y2="457.29" stroke="#f9f9f9" stroke-width="0.45" />
<line x1="93.50" y1="462.79" x2="95.42" y2="390.44" stroke="#eeeef0" stroke-width="0.45" />
<line x1="52.22" y1="503.39" x2="93.50" y2="462.79" stroke="#f9f9f9" stroke-width="0.45" />
<line x1="111.31" y1="468.42" x2="113.91" y2="394.91" stroke="#eeeef0" stroke-width="0.45" />
<line x1="70.79" y1="509.37" x2="111.31" y2="468.42" stroke="#f9f9f9" stroke-width="0.45" />
<line x1="128.98" y1="474.01" x2="132.25" y2="399.34" stroke="#eeeef0" stroke-width="0.45" />
<line x1="89.21" y1="515.30" x2="128.98" y2="474.01" stroke="#f9f9f9" stroke-width="0.45" />
<line x1="24.60" y1="494.50" x2="100.70" y2="519.00" stroke="#3c3c3c" stroke-width="0.70" />
<line x1="100.70" y1="519.00" x2="140.00" y2="477.50" stroke="#3c3c3c" stroke-width="0.70" />
<line x1="140.00" y1="477.50" x2="143.70" y2="402.10" stroke="#3c3c3c" stroke-width="0.70" />
<line x1="34.41" y1="496.76" x2="33.71" y2="498.96" stroke="#222" stroke-width="0.95" />
<text x="31.50" y="508.60" font-size="5.40" fill="#222222" text-anchor="middle" dominant-baseline="central" >−1.5</text>
<line x1="52.52" y1="502.59" x2="51.82" y2="504.79" stroke="#222" stroke-width="0.95" />
<text x="49.80" y="515.10" font-size="5.40" fill="#222222" text-anchor="middle" dominant-baseline="central" >−1.0</text>
<line x1="71.09" y1="508.57" x2="70.39" y2="510.77" stroke="#222" stroke-width="0.95" />
<text x="67.90" y="521.40" font-size="5.40" fill="#222222" text-anchor="middle" dominant-baseline="central" >−0.5</text>
<line x1="89.51" y1="514.50" x2="88.81" y2="516.70" stroke="#222" stroke-width="0.95" />
<text x="86.30" y="527.60" font-size="5.40" fill="#222222" text-anchor="middle" dominant-baseline="central" >0.0</text>
<line x1="102.10" y1="516.48" x2="104.00" y2="517.78" stroke="#222" stroke-width="0.95" />
<text x="108.60" y="527.80" font-size="5.40" fill="#222222" text-anchor="middle" dominant-baseline="central" >−3.5</text>
<line x1="111.89" y1="506.15" x2="113.79" y2="507.45" stroke="#222" stroke-width="0.95" />
<text x="117.60" y="517.40" font-size="5.40" fill="#222222" text-anchor="middle" dominant-baseline="central" >−3.0</text>
<line x1="121.72" y1="495.78" x2="123.61" y2="497.07" stroke="#222" stroke-width="0.95" />
<text x="127.40" y="506.80" font-size="5.40" fill="#222222" text-anchor="middle" dominant-baseline="central" >−2.5</text>
<line x1="131.62" y1="485.32" x2="133.52" y2="486.62" stroke="#222" stroke-width="0.95" />
<text x="137.70" y="496.30" font-size="5.40" fill="#222222" text-anchor="middle" dominant-baseline="central" >−2.0</text>
<line x1="139.87" y1="468.00" x2="142.17" y2="468.00" stroke="#222" stroke-width="0.95" />
<text x="148.67" y="468.50" font-size="5.40" fill="#222222" text-anchor="middle" dominant-baseline="central" >0.5</text>
<line x1="140.57" y1="453.67" x2="142.87" y2="453.67" stroke="#222" stroke-width="0.95" />
<text x="149.37" y="454.17" font-size="5.40" fill="#222222" text-anchor="middle" dominant-baseline="central" >1.0</text>
<line x1="141.29" y1="438.90" x2="143.59" y2="438.90" stroke="#222" stroke-width="0.95" />
<text x="150.09" y="439.40" font-size="5.40" fill="#222222" text-anchor="middle" dominant-baseline="central" >1.5</text>
<line x1="142.01" y1="424.27" x2="144.31" y2="424.27" stroke="#222" stroke-width="0.95" />
<text x="150.81" y="424.77" font-size="5.40" fill="#222222" text-anchor="middle" dominant-baseline="central" >2.0</text>
<line x1="142.74" y1="409.49" x2="145.04" y2="409.49" stroke="#222" stroke-width="0.95" />
<text x="151.54" y="409.99" font-size="5.40" fill="#222222" text-anchor="middle" dominant-baseline="central" >2.5</text>
<text x="55.10" y="526.90" font-size="5.40" fill="#222222" text-anchor="middle" dominant-baseline="central" transform="rotate(19.0 55.10 526.90)" >x (m)</text>
<text x="132.20" y="513.00" font-size="5.40" fill="#222222" text-anchor="middle" dominant-baseline="central" transform="rotate(-50.0 132.20 513.00)" >y (m)</text>
<text x="159.30" y="437.90" font-size="5.40" fill="#222222" text-anchor="middle" dominant-baseline="central" transform="rotate(-90.0 159.30 437.90)" >z (m)</text>
<rect x="111.40" y="374.80" width="45.30" height="9.80" rx="0.8" fill="#eef0f5" stroke="#e4e6ee" stroke-width="0.4"/>
<line x1="114.70" y1="379.90" x2="122.40" y2="379.90" stroke="#555" stroke-width="0.60" stroke-dasharray="2.1,3.4"/>
<text x="128.20" y="379.80" font-size="5.40" fill="#222222" text-anchor="start" dominant-baseline="central" >reference</text>
<polygon points="226.70,415.60 272.90,383.40 272.80,454.80 229.60,495.40" fill="#eeeff1" />
<polygon points="272.90,383.40 348.60,402.40 345.90,478.20 272.80,454.80" fill="#ebebed" />
<polygon points="229.60,495.40 272.80,454.80 345.90,478.20 304.60,520.20" fill="#f0f0f1" />
<line x1="242.34" y1="483.42" x2="240.33" y2="406.10" stroke="#f9f9f9" stroke-width="0.45" />
<line x1="242.34" y1="483.42" x2="316.78" y2="507.81" stroke="#f9f9f9" stroke-width="0.45" />
<line x1="253.23" y1="473.19" x2="251.97" y2="397.99" stroke="#f9f9f9" stroke-width="0.45" />
<line x1="253.23" y1="473.19" x2="327.19" y2="497.23" stroke="#f9f9f9" stroke-width="0.45" />
<line x1="263.60" y1="463.45" x2="263.06" y2="390.26" stroke="#f9f9f9" stroke-width="0.45" />
<line x1="263.60" y1="463.45" x2="337.10" y2="487.15" stroke="#f9f9f9" stroke-width="0.45" />
<line x1="229.52" y1="493.33" x2="272.80" y2="452.94" stroke="#f9f9f9" stroke-width="0.45" />
<line x1="272.80" y1="452.94" x2="345.97" y2="476.23" stroke="#eeeef0" stroke-width="0.45" />
<line x1="228.77" y1="472.66" x2="272.83" y2="434.45" stroke="#f9f9f9" stroke-width="0.45" />
<line x1="272.83" y1="434.45" x2="346.67" y2="456.60" stroke="#eeeef0" stroke-width="0.45" />
<line x1="228.02" y1="451.91" x2="272.85" y2="415.89" stroke="#f9f9f9" stroke-width="0.45" />
<line x1="272.85" y1="415.89" x2="347.37" y2="436.89" stroke="#eeeef0" stroke-width="0.45" />
<line x1="227.23" y1="430.12" x2="272.88" y2="396.39" stroke="#f9f9f9" stroke-width="0.45" />
<line x1="272.88" y1="396.39" x2="348.11" y2="416.20" stroke="#eeeef0" stroke-width="0.45" />
<line x1="274.77" y1="455.43" x2="274.94" y2="383.91" stroke="#eeeef0" stroke-width="0.45" />
<line x1="231.62" y1="496.07" x2="274.77" y2="455.43" stroke="#f9f9f9" stroke-width="0.45" />
<line x1="293.27" y1="461.35" x2="294.10" y2="388.72" stroke="#eeeef0" stroke-width="0.45" />
<line x1="250.60" y1="502.34" x2="293.27" y2="461.35" stroke="#f9f9f9" stroke-width="0.45" />
<line x1="312.64" y1="467.55" x2="314.16" y2="393.75" stroke="#eeeef0" stroke-width="0.45" />
<line x1="270.48" y1="508.92" x2="312.64" y2="467.55" stroke="#f9f9f9" stroke-width="0.45" />
<line x1="331.28" y1="473.52" x2="333.46" y2="398.60" stroke="#eeeef0" stroke-width="0.45" />
<line x1="289.60" y1="515.24" x2="331.28" y2="473.52" stroke="#f9f9f9" stroke-width="0.45" />
<line x1="229.60" y1="495.40" x2="304.60" y2="520.20" stroke="#3c3c3c" stroke-width="0.70" />
<line x1="304.60" y1="520.20" x2="345.90" y2="478.20" stroke="#3c3c3c" stroke-width="0.70" />
<line x1="345.90" y1="478.20" x2="348.60" y2="402.40" stroke="#3c3c3c" stroke-width="0.70" />
<line x1="231.93" y1="495.27" x2="231.22" y2="497.47" stroke="#222" stroke-width="0.95" />
<text x="228.60" y="506.80" font-size="5.40" fill="#222222" text-anchor="middle" dominant-baseline="central" >−1.5</text>
<line x1="250.90" y1="501.54" x2="250.20" y2="503.74" stroke="#222" stroke-width="0.95" />
<text x="248.20" y="513.00" font-size="5.40" fill="#222222" text-anchor="middle" dominant-baseline="central" >−1.0</text>
<line x1="270.78" y1="508.12" x2="270.08" y2="510.32" stroke="#222" stroke-width="0.95" />
<text x="268.00" y="519.50" font-size="5.40" fill="#222222" text-anchor="middle" dominant-baseline="central" >−0.5</text>
<line x1="289.90" y1="514.44" x2="289.20" y2="516.64" stroke="#222" stroke-width="0.95" />
<text x="287.70" y="525.90" font-size="5.40" fill="#222222" text-anchor="middle" dominant-baseline="central" >0.0</text>
<line x1="316.18" y1="507.41" x2="318.08" y2="508.71" stroke="#222" stroke-width="0.95" />
<text x="322.30" y="518.30" font-size="5.40" fill="#222222" text-anchor="middle" dominant-baseline="central" >−3.0</text>
<line x1="326.59" y1="496.83" x2="328.49" y2="498.13" stroke="#222" stroke-width="0.95" />
<text x="333.10" y="507.10" font-size="5.40" fill="#222222" text-anchor="middle" dominant-baseline="central" >−2.5</text>
<line x1="336.50" y1="486.75" x2="338.40" y2="488.05" stroke="#222" stroke-width="0.95" />
<text x="343.00" y="496.60" font-size="5.40" fill="#222222" text-anchor="middle" dominant-baseline="central" >−2.0</text>
<line x1="345.37" y1="476.23" x2="347.67" y2="476.23" stroke="#222" stroke-width="0.95" />
<text x="354.17" y="476.73" font-size="5.40" fill="#222222" text-anchor="middle" dominant-baseline="central" >0.5</text>
<line x1="346.07" y1="456.60" x2="348.37" y2="456.60" stroke="#222" stroke-width="0.95" />
<text x="354.87" y="457.10" font-size="5.40" fill="#222222" text-anchor="middle" dominant-baseline="central" >1.0</text>
<line x1="346.77" y1="436.89" x2="349.07" y2="436.89" stroke="#222" stroke-width="0.95" />
<text x="355.57" y="437.39" font-size="5.40" fill="#222222" text-anchor="middle" dominant-baseline="central" >1.5</text>
<line x1="347.51" y1="416.20" x2="349.81" y2="416.20" stroke="#222" stroke-width="0.95" />
<text x="356.31" y="416.70" font-size="5.40" fill="#222222" text-anchor="middle" dominant-baseline="central" >2.0</text>
<text x="260.10" y="526.80" font-size="5.40" fill="#222222" text-anchor="middle" dominant-baseline="central" transform="rotate(19.0 260.10 526.80)" >x (m)</text>
<text x="338.00" y="514.00" font-size="5.40" fill="#222222" text-anchor="middle" dominant-baseline="central" transform="rotate(-50.0 338.00 514.00)" >y (m)</text>
<text x="364.20" y="439.10" font-size="5.40" fill="#222222" text-anchor="middle" dominant-baseline="central" transform="rotate(-90.0 364.20 439.10)" >z (m)</text>
<rect x="316.20" y="374.80" width="45.30" height="9.80" rx="0.8" fill="#eef0f5" stroke="#e4e6ee" stroke-width="0.4"/>
<line x1="319.50" y1="379.90" x2="327.20" y2="379.90" stroke="#555" stroke-width="0.60" stroke-dasharray="2.1,3.4"/>
<text x="333.00" y="379.80" font-size="5.40" fill="#222222" text-anchor="start" dominant-baseline="central" >reference</text>
<polyline points="93.50,23.50 86.00,33.00 80.00,41.00 74.50,48.00 70.50,55.00 68.00,62.00" fill="none" stroke="#7c7c7c" stroke-width="1.05" stroke-linecap="round" stroke-linejoin="round" stroke-dasharray="2.8,1.9"/>
<polyline points="68.10,85.90 70.50,93.00 73.00,101.00 75.80,109.50" fill="none" stroke="#7c7c7c" stroke-width="1.05" stroke-linecap="round" stroke-linejoin="round" stroke-dasharray="2.8,1.9"/>
<polyline points="92.00,69.80 103.00,72.30 114.00,73.80 125.00,75.20 136.00,76.60 146.00,78.00 155.00,78.80" fill="none" stroke="#7c7c7c" stroke-width="1.05" stroke-linecap="round" stroke-linejoin="round" stroke-dasharray="2.8,1.9"/>
<polyline points="48.00,40.00 52.00,47.00 58.00,53.00 65.00,58.50" fill="none" stroke="#7c7c7c" stroke-width="1.05" stroke-linecap="round" stroke-linejoin="round" stroke-dasharray="2.8,1.9"/>
<polyline points="47.20,38.80 48.00,43.50 50.40,48.30 54.40,52.30 58.40,55.50 62.40,58.70 67.20,61.90 72.00,64.30 78.30,65.90 84.00,67.80 90.00,70.60 97.40,71.80 104.70,73.60 112.10,75.10 119.50,76.60 125.30,78.10 136.30,78.70 145.20,79.20 151.00,79.00 156.80,79.00" fill="none" stroke="#0812b0" stroke-width="1.23" stroke-linecap="round" stroke-linejoin="round"/>
<polyline points="46.30,39.50 47.00,44.00 49.30,49.00 53.30,53.00 57.50,56.30" fill="none" stroke="#0b22e8" stroke-width="0.95" stroke-linecap="round" stroke-linejoin="round"/>
<polyline points="75.10,60.60 77.10,58.20 78.80,57.50 80.50,58.50 81.60,61.20 83.60,63.50 87.90,66.20 93.70,67.70 97.40,68.80 101.10,69.70 104.70,70.20 112.10,70.40 118.00,70.80 125.60,71.60 132.00,73.00 138.30,74.20 143.50,75.80 148.50,77.30 155.00,78.60" fill="none" stroke="#0b22e8" stroke-width="1.14" stroke-linecap="round" stroke-linejoin="round"/>
<polyline points="96.20,20.40 92.40,24.70 88.70,28.40 85.70,33.60 82.00,38.80 79.60,45.90 78.10,51.80 76.60,56.70 75.10,59.70 73.70,64.60 71.70,69.50 69.70,74.40 68.30,79.30 67.20,84.80 64.70,87.90 62.30,90.40" fill="none" stroke="#0b22e8" stroke-width="1.19" stroke-linecap="round" stroke-linejoin="round"/>
<polyline points="94.50,22.50 90.00,27.50 86.50,31.50 83.00,36.50 81.00,40.50 78.60,42.00 74.70,45.90 71.70,49.80 69.70,54.70 68.80,59.70 68.30,63.60 67.30,68.50 66.30,73.40 65.40,78.70" fill="none" stroke="#22b8ff" stroke-width="0.95" stroke-linecap="round" stroke-linejoin="round"/>
<polyline points="65.40,78.70 65.80,82.00" fill="none" stroke="#7cff7a" stroke-width="1.04" stroke-linecap="round" stroke-linejoin="round"/>
<polyline points="65.80,82.00 66.00,84.50" fill="none" stroke="#ffe000" stroke-width="1.04" stroke-linecap="round" stroke-linejoin="round"/>
<polyline points="66.00,84.50 66.60,87.30 67.40,92.00" fill="none" stroke="#ff8000" stroke-width="1.04" stroke-linecap="round" stroke-linejoin="round"/>
<polyline points="67.40,92.00 68.50,97.00 70.30,100.60 72.20,104.30 73.30,107.30" fill="none" stroke="#ff2000" stroke-width="1.04" stroke-linecap="round" stroke-linejoin="round"/>
<polyline points="73.30,107.30 74.00,109.50" fill="none" stroke="#ffe000" stroke-width="1.04" stroke-linecap="round" stroke-linejoin="round"/>
<polyline points="74.00,109.50 75.10,111.70" fill="none" stroke="#2ee8e8" stroke-width="1.04" stroke-linecap="round" stroke-linejoin="round"/>
<polyline points="75.10,111.70 77.00,114.60 77.60,115.00" fill="none" stroke="#0b22e8" stroke-width="1.23" stroke-linecap="round" stroke-linejoin="round"/>
<polyline points="75.10,59.70 74.70,65.60 74.20,69.50 73.20,74.40 71.50,78.00 70.30,80.00 72.50,84.40 74.40,88.80 75.10,93.30 75.10,97.70 74.40,102.10 73.60,105.80 74.00,108.70" fill="none" stroke="#0b22e8" stroke-width="1.14" stroke-linecap="round" stroke-linejoin="round"/>
<polyline points="57.90,53.80 58.90,59.70 60.40,63.60 62.90,67.50 64.80,71.40 65.80,76.40 66.30,80.00" fill="none" stroke="#0b22e8" stroke-width="1.04" stroke-linecap="round" stroke-linejoin="round"/>
<polyline points="62.30,90.40 62.00,90.80" fill="none" stroke="#0b22e8" stroke-width="2.09" stroke-linecap="round" stroke-linejoin="round"/>
<polyline points="77.60,115.00 78.00,115.50" fill="none" stroke="#0b22e8" stroke-width="2.09" stroke-linecap="round" stroke-linejoin="round"/>
<polyline points="156.80,79.00 157.50,79.00" fill="none" stroke="#0812b0" stroke-width="1.90" stroke-linecap="round" stroke-linejoin="round"/>
<polyline points="79.50,57.60 81.00,58.00" fill="none" stroke="#22b8ff" stroke-width="1.14" stroke-linecap="round" stroke-linejoin="round"/>
<polyline points="298.30,23.50 290.80,33.00 284.80,41.00 279.30,48.00 275.30,55.00 272.80,62.00" fill="none" stroke="#7c7c7c" stroke-width="1.05" stroke-linecap="round" stroke-linejoin="round" stroke-dasharray="2.8,1.9"/>
<polyline points="272.90,85.90 275.30,93.00 277.80,101.00 280.60,109.50" fill="none" stroke="#7c7c7c" stroke-width="1.05" stroke-linecap="round" stroke-linejoin="round" stroke-dasharray="2.8,1.9"/>
<polyline points="296.80,69.80 307.80,72.30 318.80,73.80 329.80,75.20 340.80,76.60 350.80,78.00 359.80,78.80" fill="none" stroke="#7c7c7c" stroke-width="1.05" stroke-linecap="round" stroke-linejoin="round" stroke-dasharray="2.8,1.9"/>
<polyline points="252.80,40.00 256.80,47.00 262.80,53.00 269.80,58.50" fill="none" stroke="#7c7c7c" stroke-width="1.05" stroke-linecap="round" stroke-linejoin="round" stroke-dasharray="2.8,1.9"/>
<polyline points="252.00,39.60 252.80,44.30 255.20,49.10 259.20,53.10 263.20,56.30 267.20,59.50 272.00,62.70 276.80,65.10 283.10,66.70 288.80,68.60 294.80,71.40 302.20,72.60 309.50,74.40 316.90,75.90 324.30,77.40 330.09,78.90 340.09,79.50 348.18,80.00 353.37,79.80 358.59,79.80" fill="none" stroke="#0812b0" stroke-width="1.23" stroke-linecap="round" stroke-linejoin="round"/>
<polyline points="251.10,40.30 251.80,44.80 254.10,49.80 258.10,53.80 262.30,57.10" fill="none" stroke="#0b22e8" stroke-width="0.95" stroke-linecap="round" stroke-linejoin="round"/>
<polyline points="279.90,61.40 281.90,59.00 283.60,58.30 285.30,59.30 286.40,62.00 288.40,64.30 292.70,67.00 298.50,68.50 302.20,69.60 305.90,70.50 309.50,71.00 316.90,71.20 322.80,71.60 330.34,72.40 336.10,73.80 341.77,75.00 346.45,76.60 350.95,78.10 356.90,79.40" fill="none" stroke="#0b22e8" stroke-width="1.14" stroke-linecap="round" stroke-linejoin="round"/>
<polyline points="301.00,21.20 297.20,25.50 293.50,29.20 290.50,34.40 286.80,39.60 284.40,46.70 282.90,52.60 281.40,57.50 279.90,60.50 278.50,65.40 276.50,70.30 274.50,75.20 273.32,80.10 273.00,85.60 270.50,88.70 268.10,91.20" fill="none" stroke="#0b22e8" stroke-width="1.19" stroke-linecap="round" stroke-linejoin="round"/>
<polyline points="299.30,23.30 294.80,28.30 291.30,32.30 287.80,37.30 285.80,41.30 283.40,42.80 279.50,46.70 276.50,50.60 274.50,55.50 273.60,60.50 273.10,64.40 272.10,69.30 271.10,74.20 270.32,79.50" fill="none" stroke="#0b22e8" stroke-width="0.95" stroke-linecap="round" stroke-linejoin="round"/>
<polyline points="270.32,79.50 271.27,82.80" fill="none" stroke="#7cff7a" stroke-width="1.04" stroke-linecap="round" stroke-linejoin="round"/>
<polyline points="271.27,82.80 271.80,85.30" fill="none" stroke="#ffe000" stroke-width="1.04" stroke-linecap="round" stroke-linejoin="round"/>
<polyline points="271.80,85.30 272.40,88.10 273.20,92.80" fill="none" stroke="#ff8000" stroke-width="1.04" stroke-linecap="round" stroke-linejoin="round"/>
<polyline points="273.20,92.80 274.30,97.80 276.10,101.40 278.00,105.10 279.10,108.10" fill="none" stroke="#ff2000" stroke-width="1.04" stroke-linecap="round" stroke-linejoin="round"/>
<polyline points="279.10,108.10 279.80,110.30" fill="none" stroke="#ffe000" stroke-width="1.04" stroke-linecap="round" stroke-linejoin="round"/>
<polyline points="279.80,110.30 280.90,112.50" fill="none" stroke="#2ee8e8" stroke-width="1.04" stroke-linecap="round" stroke-linejoin="round"/>
<polyline points="280.90,112.50 282.80,115.40 283.40,115.80" fill="none" stroke="#0b22e8" stroke-width="1.23" stroke-linecap="round" stroke-linejoin="round"/>
<polyline points="279.90,60.50 279.50,66.40 279.00,70.30 278.00,75.20 276.30,78.80 275.43,80.80 278.30,85.20 280.20,89.60 280.90,94.10 280.90,98.50 280.20,102.90 279.40,106.60 279.80,109.50" fill="none" stroke="#0b22e8" stroke-width="1.14" stroke-linecap="round" stroke-linejoin="round"/>
<polyline points="262.70,54.60 263.70,60.50 265.20,64.40 267.70,68.30 269.60,72.20 270.60,77.20 271.43,80.80" fill="none" stroke="#0b22e8" stroke-width="1.04" stroke-linecap="round" stroke-linejoin="round"/>
<polyline points="268.10,91.20 267.80,91.60" fill="none" stroke="#0b22e8" stroke-width="2.09" stroke-linecap="round" stroke-linejoin="round"/>
<polyline points="283.40,115.80 283.80,116.30" fill="none" stroke="#0b22e8" stroke-width="2.09" stroke-linecap="round" stroke-linejoin="round"/>
<polyline points="358.59,79.80 359.22,79.80" fill="none" stroke="#0812b0" stroke-width="1.90" stroke-linecap="round" stroke-linejoin="round"/>
<polyline points="284.30,58.40 285.80,58.80" fill="none" stroke="#0b22e8" stroke-width="1.14" stroke-linecap="round" stroke-linejoin="round"/>
<polyline points="284.60,58.00 285.40,58.20" fill="none" stroke="#0812b0" stroke-width="2.28" stroke-linecap="round" stroke-linejoin="round"/>
<polyline points="46.00,261.00 65.00,265.50 80.00,269.20 95.00,273.50 111.00,279.00" fill="none" stroke="#7c7c7c" stroke-width="1.05" stroke-linecap="round" stroke-linejoin="round" stroke-dasharray="2.8,1.9"/>
<polyline points="88.50,246.00 89.20,262.00 89.80,278.00 90.50,300.00" fill="none" stroke="#7c7c7c" stroke-width="1.05" stroke-linecap="round" stroke-linejoin="round" stroke-dasharray="2.8,1.9"/>
<polyline points="86.50,265.40 97.00,262.30 108.70,258.80" fill="none" stroke="#7c7c7c" stroke-width="1.05" stroke-linecap="round" stroke-linejoin="round" stroke-dasharray="2.8,1.9"/>
<polyline points="22.50,296.30 25.50,297.30" fill="none" stroke="#ffe000" stroke-width="1.52" stroke-linecap="round" stroke-linejoin="round"/>
<polyline points="25.50,297.60 28.00,297.50 30.60,295.00 33.20,292.50" fill="none" stroke="#ff2000" stroke-width="1.23" stroke-linecap="round" stroke-linejoin="round"/>
<polyline points="28.00,296.00 30.50,294.00 32.40,293.00 35.00,290.50" fill="none" stroke="#7cff7a" stroke-width="0.95" stroke-linecap="round" stroke-linejoin="round"/>
<polyline points="33.20,292.50 35.80,289.90 40.00,289.30 44.40,289.00 51.30,288.20 54.00,287.00" fill="none" stroke="#ff8000" stroke-width="1.04" stroke-linecap="round" stroke-linejoin="round"/>
<polyline points="35.80,289.00 41.00,287.30 46.10,285.60 51.30,283.90 56.40,281.50 61.00,279.50" fill="none" stroke="#2ee8e8" stroke-width="1.14" stroke-linecap="round" stroke-linejoin="round"/>
<polyline points="38.00,289.80 43.00,288.50 48.00,287.20 52.00,286.00" fill="none" stroke="#7cff7a" stroke-width="0.85" stroke-linecap="round" stroke-linejoin="round"/>
<polyline points="54.00,287.00 58.00,285.80 61.60,283.50 64.50,281.30" fill="none" stroke="#c8ff30" stroke-width="0.95" stroke-linecap="round" stroke-linejoin="round"/>
<polyline points="50.50,288.20 56.00,285.50 62.00,282.00 68.00,278.50" fill="none" stroke="#0812b0" stroke-width="0.76" stroke-linecap="round" stroke-linejoin="round"/>
<polyline points="61.60,278.70 66.80,276.10 71.90,273.50 80.00,271.00 83.60,265.40 89.50,259.50 92.40,256.50 95.40,257.30 98.30,259.50 100.00,259.90" fill="none" stroke="#0b22e8" stroke-width="1.23" stroke-linecap="round" stroke-linejoin="round"/>
<polyline points="64.00,279.20 70.00,276.50 76.00,274.50 82.00,272.50 88.00,270.20 94.00,268.60 99.80,267.60 101.50,267.20" fill="none" stroke="#0812b0" stroke-width="1.23" stroke-linecap="round" stroke-linejoin="round"/>
<polyline points="60.00,282.30 66.00,280.00 70.00,278.50 75.00,274.80 82.00,275.70 86.00,276.20" fill="none" stroke="#22b8ff" stroke-width="0.95" stroke-linecap="round" stroke-linejoin="round"/>
<polyline points="75.00,270.00 80.00,266.50 85.00,268.00 90.00,263.50 95.00,265.00 98.00,262.00" fill="none" stroke="#0b22e8" stroke-width="0.85" stroke-linecap="round" stroke-linejoin="round"/>
<polyline points="78.00,276.50 84.00,273.50 90.00,274.00 96.00,271.00 101.00,270.00" fill="none" stroke="#0812b0" stroke-width="0.85" stroke-linecap="round" stroke-linejoin="round"/>
<polyline points="63.30,274.40 64.50,269.00 65.00,265.80 66.50,264.70" fill="none" stroke="#2ee8e8" stroke-width="0.95" stroke-linecap="round" stroke-linejoin="round"/>
<polyline points="62.00,270.50 64.40,265.40 67.40,264.70 71.80,266.90 74.00,268.50" fill="none" stroke="#2ee8e8" stroke-width="0.85" stroke-linecap="round" stroke-linejoin="round"/>
<polyline points="64.50,281.30 65.00,285.00" fill="none" stroke="#c8ff30" stroke-width="1.04" stroke-linecap="round" stroke-linejoin="round"/>
<polyline points="65.00,285.00 65.40,288.20" fill="none" stroke="#ff8000" stroke-width="1.42" stroke-linecap="round" stroke-linejoin="round"/>
<polyline points="89.50,262.40 98.30,259.50 104.20,257.30" fill="none" stroke="#2ee8e8" stroke-width="1.04" stroke-linecap="round" stroke-linejoin="round"/>
<polyline points="104.20,257.30 111.60,255.10 120.00,252.10" fill="none" stroke="#7cff7a" stroke-width="1.04" stroke-linecap="round" stroke-linejoin="round"/>
<polyline points="120.00,252.10 125.00,250.30 129.50,247.60" fill="none" stroke="#c8ff30" stroke-width="1.04" stroke-linecap="round" stroke-linejoin="round"/>
<polyline points="129.50,247.60 135.40,245.40" fill="none" stroke="#ffe000" stroke-width="1.04" stroke-linecap="round" stroke-linejoin="round"/>
<polyline points="135.40,245.40 139.80,243.20" fill="none" stroke="#ff8000" stroke-width="1.04" stroke-linecap="round" stroke-linejoin="round"/>
<polyline points="95.40,258.00 99.90,259.90 104.80,263.00 109.70,267.30 112.50,270.00" fill="none" stroke="#2ee8e8" stroke-width="1.04" stroke-linecap="round" stroke-linejoin="round"/>
<polyline points="112.50,270.00 114.70,272.20 117.70,275.90" fill="none" stroke="#7cff7a" stroke-width="1.04" stroke-linecap="round" stroke-linejoin="round"/>
<polyline points="117.70,275.90 119.60,277.70" fill="none" stroke="#ffe000" stroke-width="1.71" stroke-linecap="round" stroke-linejoin="round"/>
<polyline points="119.60,277.10 122.00,273.40 125.70,269.70" fill="none" stroke="#ff8000" stroke-width="1.04" stroke-linecap="round" stroke-linejoin="round"/>
<polyline points="125.70,269.70 130.60,266.70 135.50,264.80 138.60,262.40 141.70,258.10 144.10,256.80 148.70,254.20 151.60,251.30" fill="none" stroke="#ff2000" stroke-width="1.04" stroke-linecap="round" stroke-linejoin="round"/>
<polyline points="140.00,243.00 136.50,239.00 139.50,237.00 135.50,233.50 138.50,231.50 134.50,228.00 136.00,226.00 137.80,228.50 139.80,233.00 139.00,238.00 141.50,242.00" fill="none" stroke="#ffe000" stroke-width="1.14" stroke-linecap="round" stroke-linejoin="round"/>
<polyline points="134.50,228.00 136.00,226.00 137.80,228.50 138.60,230.50" fill="none" stroke="#c8ff30" stroke-width="1.04" stroke-linecap="round" stroke-linejoin="round"/>
<polyline points="139.80,243.40 137.50,240.50 139.50,238.50 141.20,241.00" fill="none" stroke="#ff8000" stroke-width="1.33" stroke-linecap="round" stroke-linejoin="round"/>
<polyline points="141.30,242.40 144.20,245.40 147.20,247.60 150.10,249.10" fill="none" stroke="#ff8000" stroke-width="1.14" stroke-linecap="round" stroke-linejoin="round"/>
<polyline points="140.50,239.50 143.50,241.00 144.50,244.00 142.00,245.00 140.50,243.00" fill="none" stroke="#ff8000" stroke-width="1.61" stroke-linecap="round" stroke-linejoin="round"/>
<polyline points="151.20,249.60 151.80,249.90" fill="none" stroke="#c80000" stroke-width="3.23" stroke-linecap="round" stroke-linejoin="round"/>
<polyline points="96.50,268.00 100.50,267.20" fill="none" stroke="#0812b0" stroke-width="1.52" stroke-linecap="round" stroke-linejoin="round"/>
<polyline points="255.40,263.20 270.00,266.30 280.30,268.90 292.40,273.20 304.40,276.60 313.00,279.20" fill="none" stroke="#7c7c7c" stroke-width="1.05" stroke-linecap="round" stroke-linejoin="round" stroke-dasharray="2.8,1.9"/>
<polyline points="270.00,276.60 283.80,274.90 292.40,271.40" fill="none" stroke="#7c7c7c" stroke-width="1.05" stroke-linecap="round" stroke-linejoin="round" stroke-dasharray="2.8,1.9"/>
<polyline points="294.10,240.50 293.20,252.00 292.40,264.60 291.50,273.00 290.60,281.80 291.00,290.00" fill="none" stroke="#7c7c7c" stroke-width="1.05" stroke-linecap="round" stroke-linejoin="round" stroke-dasharray="2.8,1.9"/>
<polyline points="216.70,263.20 221.00,262.40 226.20,263.20 231.40,265.80 238.20,264.90" fill="none" stroke="#2ee8e8" stroke-width="1.33" stroke-linecap="round" stroke-linejoin="round"/>
<polyline points="238.20,264.90 243.40,265.80 248.60,265.80" fill="none" stroke="#22b8ff" stroke-width="1.23" stroke-linecap="round" stroke-linejoin="round"/>
<polyline points="248.60,265.80 253.70,267.50 256.30,269.20 260.60,267.50 264.90,265.80 267.50,268.40 270.90,270.10" fill="none" stroke="#0b22e8" stroke-width="1.23" stroke-linecap="round" stroke-linejoin="round"/>
<polyline points="270.00,268.90 280.30,270.60 290.60,272.30 295.80,273.20" fill="none" stroke="#0812b0" stroke-width="1.14" stroke-linecap="round" stroke-linejoin="round"/>
<polyline points="260.60,268.40 265.80,270.10 270.00,272.30 275.20,274.00 280.30,274.90 285.50,275.70" fill="none" stroke="#22b8ff" stroke-width="1.04" stroke-linecap="round" stroke-linejoin="round"/>
<polyline points="276.90,257.30 300.00,258.80 325.00,260.30" fill="none" stroke="#2ee8e8" stroke-width="1.14" stroke-linecap="round" stroke-linejoin="round"/>
<polyline points="288.90,258.50 302.00,260.00 316.40,262.00" fill="none" stroke="#0b22e8" stroke-width="1.14" stroke-linecap="round" stroke-linejoin="round"/>
<polyline points="307.80,232.80 308.23,233.06 308.63,233.41 308.94,233.86 309.15,234.38 309.24,234.94 309.18,235.51 308.98,236.07 308.66,236.58 308.24,237.02 307.74,237.37 307.21,237.62 306.67,237.76 306.19,237.79 305.78,237.74 305.48,237.62 305.31,237.46 305.28,237.29 305.39,237.14 305.62,237.04 305.95,237.01 306.35,237.07 306.79,237.24 307.22,237.51 307.60,237.89 307.90,238.35 308.09,238.88 308.14,239.44 308.06,240.02 307.84,240.57 307.50,241.07 307.06,241.49 306.55,241.82 306.02,242.05 305.49,242.17 305.02,242.19 304.62,242.12 304.35,242.00 304.20,241.83 304.20,241.66 304.33,241.52 304.58,241.43 304.93,241.41 305.34,241.49 305.78,241.68 306.20,241.97 306.57,242.37 306.85,242.84 307.02,243.38 307.05,243.95 306.94,244.52 306.70,245.06 306.34,245.55 305.88,245.96 305.37,246.27 304.83,246.48 304.31,246.58 303.85,246.58 303.47,246.50 303.22,246.37 303.10,246.20 303.12,246.03 303.27,245.90 303.55,245.82 303.91,245.82 304.33,245.92 304.77,246.13 305.18,246.44 305.54,246.85 305.80,247.34 305.94,247.88 305.95,248.45 305.82,249.02 305.55,249.56 305.17,250.03 304.70,250.43 304.18,250.72 303.64,250.91 303.13,250.99 302.68,250.97 302.33,250.88 302.10,250.74 302.00,250.57 302.05,250.40 302.22,250.28 302.52,250.21 302.89,250.23 303.32,250.35 303.75,250.58 304.16,250.91 304.50,251.33 304.74,251.83 304.86,252.38 304.84,252.96 304.69,253.52 304.40,254.05 304.00,254.51 303.52,254.89 302.99,255.16 302.45,255.33 301.95,255.39 301.52,255.36 301.19,255.26 300.98,255.11 300.91,254.94 300.98,254.78 301.18,254.66 301.49,254.61 301.87,254.64 302.31,254.78 302.74,255.03 303.14,255.38 303.46,255.82 303.68,256.33 303.78,256.89 303.74,257.46 303.55,258.02 303.24,258.54 302.83,258.99 302.33,259.34 301.80,259.60" fill="none" stroke="#0b22e8" stroke-width="1.14" stroke-linecap="round" stroke-linejoin="round"/>
<polyline points="312.30,259.60 315.00,258.90 317.80,260.60 317.80,263.20 315.00,264.30 312.60,263.00 312.20,261.00" fill="none" stroke="#0b22e8" stroke-width="1.04" stroke-linecap="round" stroke-linejoin="round"/>
<polyline points="302.70,262.00 300.10,266.30 297.50,271.40 295.80,276.60 294.10,281.80 291.50,288.60 292.40,292.10 295.80,293.80 300.10,295.50 303.50,294.70 304.40,290.40 303.50,283.50 302.70,276.60 303.50,269.70 306.10,264.60" fill="none" stroke="#0b22e8" stroke-width="1.04" stroke-linecap="round" stroke-linejoin="round"/>
<polyline points="283.80,281.80 282.90,285.20 286.30,286.10 292.40,284.40 297.50,280.90 304.40,276.60 311.30,272.30 315.10,271.10" fill="none" stroke="#2a6aff" stroke-width="1.04" stroke-linecap="round" stroke-linejoin="round"/>
<polyline points="296.70,272.30 301.80,269.70 307.80,266.30 310.40,264.60" fill="none" stroke="#0b22e8" stroke-width="0.95" stroke-linecap="round" stroke-linejoin="round"/>
<polyline points="292.40,292.10 294.00,296.50 298.50,298.50 302.50,296.50 304.00,293.00" fill="none" stroke="#0b22e8" stroke-width="0.95" stroke-linecap="round" stroke-linejoin="round"/>
<polyline points="288.00,279.00 291.00,275.00 296.00,276.50 299.00,281.00 297.00,285.50" fill="none" stroke="#2a6aff" stroke-width="0.85" stroke-linecap="round" stroke-linejoin="round"/>
<polyline points="299.00,262.00 303.00,265.50 306.50,263.00 309.50,266.00 311.00,262.50" fill="none" stroke="#0b22e8" stroke-width="0.85" stroke-linecap="round" stroke-linejoin="round"/>
<polyline points="296.00,268.00 300.00,271.50 304.50,268.50 307.00,272.00" fill="none" stroke="#0812b0" stroke-width="0.85" stroke-linecap="round" stroke-linejoin="round"/>
<polyline points="285.50,280.90 295.80,285.20" fill="none" stroke="#22b8ff" stroke-width="1.04" stroke-linecap="round" stroke-linejoin="round"/>
<polyline points="295.80,285.20 302.00,288.00 309.60,291.20" fill="none" stroke="#2ee8e8" stroke-width="1.04" stroke-linecap="round" stroke-linejoin="round"/>
<polyline points="309.60,291.20 318.00,294.50" fill="none" stroke="#7cff7a" stroke-width="1.04" stroke-linecap="round" stroke-linejoin="round"/>
<polyline points="318.00,294.50 329.30,299.00" fill="none" stroke="#c8ff30" stroke-width="1.04" stroke-linecap="round" stroke-linejoin="round"/>
<polyline points="315.10,271.10 315.40,271.30" fill="none" stroke="#0b22e8" stroke-width="2.28" stroke-linecap="round" stroke-linejoin="round"/>
<polyline points="307.80,232.80 307.90,232.50" fill="none" stroke="#0b22e8" stroke-width="1.90" stroke-linecap="round" stroke-linejoin="round"/>
<polyline points="77.70,442.60 84.50,434.20 91.40,425.90" fill="none" stroke="#7c7c7c" stroke-width="1.05" stroke-linecap="round" stroke-linejoin="round" stroke-dasharray="2.8,1.9"/>
<polyline points="79.90,446.30 83.20,440.50 86.50,434.70" fill="none" stroke="#7c7c7c" stroke-width="1.05" stroke-linecap="round" stroke-linejoin="round" stroke-dasharray="2.8,1.9"/>
<polyline points="62.00,433.80 69.00,439.80 75.70,445.60" fill="none" stroke="#7c7c7c" stroke-width="1.05" stroke-linecap="round" stroke-linejoin="round" stroke-dasharray="2.8,1.9"/>
<polyline points="81.60,449.50 100.00,452.50 120.90,455.20" fill="none" stroke="#7c7c7c" stroke-width="1.05" stroke-linecap="round" stroke-linejoin="round" stroke-dasharray="2.8,1.9"/>
<polyline points="82.60,454.40 100.00,457.30 118.50,459.40" fill="none" stroke="#7c7c7c" stroke-width="1.05" stroke-linecap="round" stroke-linejoin="round" stroke-dasharray="2.8,1.9"/>
<polyline points="76.70,453.40 77.20,461.00 77.70,469.10" fill="none" stroke="#7c7c7c" stroke-width="1.05" stroke-linecap="round" stroke-linejoin="round" stroke-dasharray="2.8,1.9"/>
<polyline points="79.50,455.00 80.00,460.00 80.30,463.00" fill="none" stroke="#7c7c7c" stroke-width="1.05" stroke-linecap="round" stroke-linejoin="round" stroke-dasharray="2.8,1.9"/>
<polyline points="62.60,406.90 59.00,408.50 56.70,409.80 54.00,412.00 52.80,413.80" fill="none" stroke="#ff2000" stroke-width="1.04" stroke-linecap="round" stroke-linejoin="round"/>
<polyline points="61.50,407.50 58.00,410.50 55.50,414.00" fill="none" stroke="#ff8000" stroke-width="0.85" stroke-linecap="round" stroke-linejoin="round"/>
<polyline points="52.80,413.80 51.80,417.70 52.20,420.50" fill="none" stroke="#ff8000" stroke-width="1.04" stroke-linecap="round" stroke-linejoin="round"/>
<polyline points="52.20,420.50 52.80,423.60 53.40,427.00" fill="none" stroke="#ffe000" stroke-width="1.04" stroke-linecap="round" stroke-linejoin="round"/>
<polyline points="53.40,427.00 53.80,429.50 54.20,432.00" fill="none" stroke="#c8ff30" stroke-width="1.04" stroke-linecap="round" stroke-linejoin="round"/>
<polyline points="54.20,432.00 54.70,434.40 56.70,437.30" fill="none" stroke="#7cff7a" stroke-width="1.04" stroke-linecap="round" stroke-linejoin="round"/>
<polyline points="56.70,437.30 59.60,440.30 63.60,444.20 67.50,447.20 73.40,449.10 79.30,451.10 85.20,455.00 91.10,458.90 98.90,461.90 103.00,462.50" fill="none" stroke="#2ee8e8" stroke-width="1.04" stroke-linecap="round" stroke-linejoin="round"/>
<polyline points="103.00,462.50 106.80,462.90 109.70,459.90 108.50,458.00" fill="none" stroke="#7cff7a" stroke-width="1.04" stroke-linecap="round" stroke-linejoin="round"/>
<polyline points="67.50,410.80 63.60,414.70 58.70,417.70 57.70,421.60 58.70,427.50 59.60,433.40 58.70,436.30 57.00,436.50" fill="none" stroke="#2ee8e8" stroke-width="1.04" stroke-linecap="round" stroke-linejoin="round"/>
<polyline points="58.00,437.00 61.60,439.30 67.50,442.20 74.40,446.20 77.30,448.10" fill="none" stroke="#22b8ff" stroke-width="0.95" stroke-linecap="round" stroke-linejoin="round"/>
<polyline points="66.50,412.80 62.60,419.60 61.60,427.50 62.60,433.40 66.50,438.30 71.40,442.20 76.30,447.20 77.30,451.10 82.20,453.00 89.10,457.00" fill="none" stroke="#0b22e8" stroke-width="1.14" stroke-linecap="round" stroke-linejoin="round"/>
<polyline points="89.10,457.00 97.00,460.90 105.50,464.20 113.40,466.20 119.30,470.10 122.20,469.10 127.20,467.20 131.10,464.80 137.00,465.60 142.90,467.20 146.00,468.00" fill="none" stroke="#22b8ff" stroke-width="1.04" stroke-linecap="round" stroke-linejoin="round"/>
<polyline points="146.00,468.00 148.80,469.10 151.00,470.20" fill="none" stroke="#2ee8e8" stroke-width="1.04" stroke-linecap="round" stroke-linejoin="round"/>
<polyline points="151.00,470.20 154.70,472.10" fill="none" stroke="#c8ff30" stroke-width="1.04" stroke-linecap="round" stroke-linejoin="round"/>
<polyline points="154.70,472.10 158.60,474.00" fill="none" stroke="#ffe000" stroke-width="1.04" stroke-linecap="round" stroke-linejoin="round"/>
<polyline points="75.40,448.10 80.00,447.50 87.90,447.10 93.80,448.50 99.60,451.40 103.00,453.50" fill="none" stroke="#0b22e8" stroke-width="1.04" stroke-linecap="round" stroke-linejoin="round"/>
<polyline points="103.00,453.50 105.50,455.40" fill="none" stroke="#22b8ff" stroke-width="1.04" stroke-linecap="round" stroke-linejoin="round"/>
<polyline points="105.50,455.40 109.50,458.30 108.50,461.30 103.60,462.80" fill="none" stroke="#7cff7a" stroke-width="1.04" stroke-linecap="round" stroke-linejoin="round"/>
<polyline points="103.60,462.80 95.70,463.20 88.00,461.00 82.00,457.50 78.00,454.00" fill="none" stroke="#2ee8e8" stroke-width="0.95" stroke-linecap="round" stroke-linejoin="round"/>
<polyline points="76.30,452.10 83.20,458.90 89.10,468.80 95.00,478.60 100.50,487.50 103.00,491.00" fill="none" stroke="#0b22e8" stroke-width="1.14" stroke-linecap="round" stroke-linejoin="round"/>
<polyline points="77.50,452.50 80.00,455.50 82.00,458.00" fill="none" stroke="#0812b0" stroke-width="0.95" stroke-linecap="round" stroke-linejoin="round"/>
<polyline points="103.00,491.00 105.50,494.30" fill="none" stroke="#ff2000" stroke-width="1.14" stroke-linecap="round" stroke-linejoin="round"/>
<polyline points="96.70,484.80 99.00,486.50" fill="none" stroke="#7cff7a" stroke-width="0.95" stroke-linecap="round" stroke-linejoin="round"/>
<polyline points="99.00,486.50 101.60,488.80" fill="none" stroke="#ff8000" stroke-width="0.95" stroke-linecap="round" stroke-linejoin="round"/>
<polyline points="101.60,488.80 105.50,494.30" fill="none" stroke="#ff2000" stroke-width="0.95" stroke-linecap="round" stroke-linejoin="round"/>
<polyline points="98.70,483.90 102.00,486.00" fill="none" stroke="#7cff7a" stroke-width="1.04" stroke-linecap="round" stroke-linejoin="round"/>
<polyline points="102.00,486.00 105.50,487.80 108.00,489.50" fill="none" stroke="#c8ff30" stroke-width="1.04" stroke-linecap="round" stroke-linejoin="round"/>
<polyline points="108.00,489.50 113.40,493.70 116.00,496.00" fill="none" stroke="#ffe000" stroke-width="1.04" stroke-linecap="round" stroke-linejoin="round"/>
<polyline points="116.00,496.00 119.30,498.60 122.00,499.50 126.00,498.50 131.10,497.60 138.00,496.50" fill="none" stroke="#ff8000" stroke-width="1.04" stroke-linecap="round" stroke-linejoin="round"/>
<polyline points="138.00,496.50 144.80,495.60 151.00,494.70 158.60,493.70" fill="none" stroke="#ff2000" stroke-width="1.04" stroke-linecap="round" stroke-linejoin="round"/>
<polyline points="76.30,452.10 76.80,452.40" fill="none" stroke="#0812b0" stroke-width="2.28" stroke-linecap="round" stroke-linejoin="round"/>
<polyline points="260.70,431.40 278.00,437.90 291.40,442.90 306.70,448.70 320.20,452.50" fill="none" stroke="#7c7c7c" stroke-width="1.05" stroke-linecap="round" stroke-linejoin="round" stroke-dasharray="2.8,1.9"/>
<polyline points="272.20,439.10 276.10,452.50 274.20,467.80 274.20,477.40" fill="none" stroke="#7c7c7c" stroke-width="1.05" stroke-linecap="round" stroke-linejoin="round" stroke-dasharray="2.8,1.9"/>
<polyline points="278.00,441.00 283.70,456.30" fill="none" stroke="#7c7c7c" stroke-width="1.05" stroke-linecap="round" stroke-linejoin="round" stroke-dasharray="2.8,1.9"/>
<polyline points="291.40,448.70 304.80,450.60 318.20,448.70" fill="none" stroke="#7c7c7c" stroke-width="1.05" stroke-linecap="round" stroke-linejoin="round" stroke-dasharray="2.8,1.9"/>
<polyline points="283.70,433.30 287.60,423.70 291.40,416.10" fill="none" stroke="#7c7c7c" stroke-width="1.05" stroke-linecap="round" stroke-linejoin="round" stroke-dasharray="2.8,1.9"/>
<polyline points="290.00,443.90 297.00,445.50 304.70,447.20" fill="none" stroke="#7c7c7c" stroke-width="1.05" stroke-linecap="round" stroke-linejoin="round" stroke-dasharray="2.8,1.9"/>
<polyline points="297.30,407.40 294.40,412.80 291.40,417.70 289.50,421.60 288.50,425.60 286.00,426.50 288.00,428.00 290.50,427.50" fill="none" stroke="#0b22e8" stroke-width="1.04" stroke-linecap="round" stroke-linejoin="round"/>
<polyline points="297.30,407.40 295.90,413.80 294.40,418.70 292.40,423.60 290.50,427.50 289.50,431.40 290.50,435.40 290.50,439.30" fill="none" stroke="#0b22e8" stroke-width="1.04" stroke-linecap="round" stroke-linejoin="round"/>
<polyline points="291.40,431.40 296.40,431.40 292.40,437.30 290.60,439.10" fill="none" stroke="#22b8ff" stroke-width="0.85" stroke-linecap="round" stroke-linejoin="round"/>
<polyline points="269.30,428.50 272.80,430.00 276.70,432.40 280.60,434.40 284.60,435.90 289.50,436.90" fill="none" stroke="#0b22e8" stroke-width="1.04" stroke-linecap="round" stroke-linejoin="round"/>
<polyline points="269.30,428.50 269.80,431.40 272.80,432.40 276.70,434.40 279.70,436.40 283.60,437.30 287.50,437.80 290.50,438.30" fill="none" stroke="#0b22e8" stroke-width="1.04" stroke-linecap="round" stroke-linejoin="round"/>
<polyline points="290.00,436.50 297.40,437.40 304.70,436.50 312.10,435.60 319.50,434.70" fill="none" stroke="#2a6aff" stroke-width="1.04" stroke-linecap="round" stroke-linejoin="round"/>
<polyline points="319.50,434.70 326.90,435.60 333.30,436.50 334.20,438.30" fill="none" stroke="#22b8ff" stroke-width="1.04" stroke-linecap="round" stroke-linejoin="round"/>
<polyline points="312.10,434.30 323.20,433.70 330.50,434.60 334.20,435.60 334.20,439.30 326.90,441.10 317.60,442.90 308.40,443.90" fill="none" stroke="#22b8ff" stroke-width="0.95" stroke-linecap="round" stroke-linejoin="round"/>
<polyline points="290.00,441.10 297.40,442.00 304.70,442.90 312.10,444.20 317.60,444.80" fill="none" stroke="#2a6aff" stroke-width="0.95" stroke-linecap="round" stroke-linejoin="round"/>
<polyline points="290.60,439.10 288.30,442.80" fill="none" stroke="#22b8ff" stroke-width="0.95" stroke-linecap="round" stroke-linejoin="round"/>
<polyline points="288.30,442.80 289.10,448.70 289.80,454.60 290.60,457.00 289.80,459.20 286.90,463.60 282.40,468.00 276.50,471.70 272.10,471.70" fill="none" stroke="#2a6aff" stroke-width="0.95" stroke-linecap="round" stroke-linejoin="round"/>
<polyline points="260.30,454.00 261.80,457.70 264.70,459.90 268.40,462.10 272.10,463.60 277.30,463.30" fill="none" stroke="#0b22e8" stroke-width="1.04" stroke-linecap="round" stroke-linejoin="round"/>
<polyline points="271.40,463.60 271.80,469.50 272.40,475.40 272.90,478.30" fill="none" stroke="#0b22e8" stroke-width="1.04" stroke-linecap="round" stroke-linejoin="round"/>
<polyline points="260.50,453.80 261.00,455.00" fill="none" stroke="#0b22e8" stroke-width="1.90" stroke-linecap="round" stroke-linejoin="round"/>
<polyline points="272.90,478.30 272.90,479.00" fill="none" stroke="#0b22e8" stroke-width="1.71" stroke-linecap="round" stroke-linejoin="round"/>
<rect x="168.70" y="5.90" width="7.90" height="157.90" fill="url(#jet)"/>
<line x1="176.60" y1="163.80" x2="178.80" y2="163.80" stroke="#222" stroke-width="0.75" />
<text x="180.80" y="163.50" font-size="5.40" fill="#222222" text-anchor="start" dominant-baseline="central" >0.000</text>
<line x1="176.60" y1="84.85" x2="178.80" y2="84.85" stroke="#222" stroke-width="0.75" />
<text x="180.80" y="84.55" font-size="5.40" fill="#222222" text-anchor="start" dominant-baseline="central" >0.050</text>
<line x1="176.60" y1="5.90" x2="178.80" y2="5.90" stroke="#222" stroke-width="0.75" />
<text x="180.80" y="5.60" font-size="5.40" fill="#222222" text-anchor="start" dominant-baseline="central" >0.100</text>
<rect x="373.70" y="5.90" width="7.90" height="157.90" fill="url(#jet)"/>
<line x1="381.60" y1="163.80" x2="383.80" y2="163.80" stroke="#222" stroke-width="0.75" />
<text x="385.80" y="163.50" font-size="5.40" fill="#222222" text-anchor="start" dominant-baseline="central" >0.000</text>
<line x1="381.60" y1="84.85" x2="383.80" y2="84.85" stroke="#222" stroke-width="0.75" />
<text x="385.80" y="84.55" font-size="5.40" fill="#222222" text-anchor="start" dominant-baseline="central" >0.050</text>
<line x1="381.60" y1="5.90" x2="383.80" y2="5.90" stroke="#222" stroke-width="0.75" />
<text x="385.80" y="5.60" font-size="5.40" fill="#222222" text-anchor="start" dominant-baseline="central" >0.100</text>
<rect x="168.70" y="189.10" width="7.90" height="157.90" fill="url(#jet)"/>
<line x1="176.60" y1="347.00" x2="178.80" y2="347.00" stroke="#222" stroke-width="0.75" />
<text x="180.80" y="346.70" font-size="5.40" fill="#222222" text-anchor="start" dominant-baseline="central" >0.000</text>
<line x1="176.60" y1="268.05" x2="178.80" y2="268.05" stroke="#222" stroke-width="0.75" />
<text x="180.80" y="267.75" font-size="5.40" fill="#222222" text-anchor="start" dominant-baseline="central" >0.700</text>
<line x1="176.60" y1="189.10" x2="178.80" y2="189.10" stroke="#222" stroke-width="0.75" />
<text x="180.80" y="188.80" font-size="5.40" fill="#222222" text-anchor="start" dominant-baseline="central" >1.400</text>
<rect x="373.70" y="189.10" width="7.90" height="157.90" fill="url(#jet)"/>
<line x1="381.60" y1="347.00" x2="383.80" y2="347.00" stroke="#222" stroke-width="0.75" />
<text x="385.80" y="346.70" font-size="5.40" fill="#222222" text-anchor="start" dominant-baseline="central" >0.000</text>
<line x1="381.60" y1="268.05" x2="383.80" y2="268.05" stroke="#222" stroke-width="0.75" />
<text x="385.80" y="267.75" font-size="5.40" fill="#222222" text-anchor="start" dominant-baseline="central" >0.700</text>
<line x1="381.60" y1="189.10" x2="383.80" y2="189.10" stroke="#222" stroke-width="0.75" />
<text x="385.80" y="188.80" font-size="5.40" fill="#222222" text-anchor="start" dominant-baseline="central" >1.400</text>
<rect x="168.70" y="372.50" width="7.90" height="157.90" fill="url(#jet)"/>
<line x1="176.60" y1="530.40" x2="178.80" y2="530.40" stroke="#222" stroke-width="0.75" />
<text x="180.80" y="530.10" font-size="5.40" fill="#222222" text-anchor="start" dominant-baseline="central" >0.000</text>
<line x1="176.60" y1="451.45" x2="178.80" y2="451.45" stroke="#222" stroke-width="0.75" />
<text x="180.80" y="451.15" font-size="5.40" fill="#222222" text-anchor="start" dominant-baseline="central" >0.800</text>
<line x1="176.60" y1="372.50" x2="178.80" y2="372.50" stroke="#222" stroke-width="0.75" />
<text x="180.80" y="372.20" font-size="5.40" fill="#222222" text-anchor="start" dominant-baseline="central" >1.600</text>
<rect x="373.70" y="372.50" width="7.90" height="157.90" fill="url(#jet)"/>
<line x1="381.60" y1="530.40" x2="383.80" y2="530.40" stroke="#222" stroke-width="0.75" />
<text x="385.80" y="530.10" font-size="5.40" fill="#222222" text-anchor="start" dominant-baseline="central" >0.000</text>
<line x1="381.60" y1="451.45" x2="383.80" y2="451.45" stroke="#222" stroke-width="0.75" />
<text x="385.80" y="451.15" font-size="5.40" fill="#222222" text-anchor="start" dominant-baseline="central" >0.800</text>
<line x1="381.60" y1="372.50" x2="383.80" y2="372.50" stroke="#222" stroke-width="0.75" />
<text x="385.80" y="372.20" font-size="5.40" fill="#222222" text-anchor="start" dominant-baseline="central" >1.600</text>
<text x="97.40" y="176.10" font-size="9.6" fill="#111" text-anchor="middle" dominant-baseline="central" style="font-family:'Liberation Serif',serif">(<tspan font-weight="bold">a</tspan>)</text>
<text x="302.30" y="176.10" font-size="9.6" fill="#111" text-anchor="middle" dominant-baseline="central" style="font-family:'Liberation Serif',serif">(<tspan font-weight="bold">b</tspan>)</text>
<text x="97.40" y="359.30" font-size="9.6" fill="#111" text-anchor="middle" dominant-baseline="central" style="font-family:'Liberation Serif',serif">(<tspan font-weight="bold">c</tspan>)</text>
<text x="302.30" y="359.30" font-size="9.6" fill="#111" text-anchor="middle" dominant-baseline="central" style="font-family:'Liberation Serif',serif">(<tspan font-weight="bold">d</tspan>)</text>
<text x="97.40" y="542.70" font-size="9.6" fill="#111" text-anchor="middle" dominant-baseline="central" style="font-family:'Liberation Serif',serif">(<tspan font-weight="bold">e</tspan>)</text>
<text x="302.30" y="542.70" font-size="9.6" fill="#111" text-anchor="middle" dominant-baseline="central" style="font-family:'Liberation Serif',serif">(<tspan font-weight="bold">f</tspan>)</text>
</g>
</svg></div></body></html>
